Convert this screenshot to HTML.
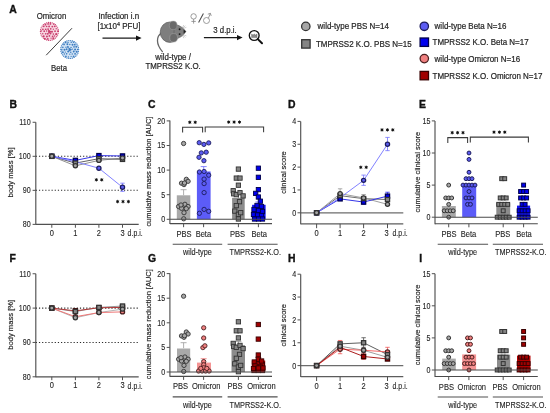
<!DOCTYPE html>
<html><head><meta charset="utf-8"><style>
html,body{margin:0;padding:0;background:#fff;width:550px;height:413px;overflow:hidden}
svg{display:block;filter:blur(0.35px)}
text{font-family:"Liberation Sans", sans-serif}
</style></head><body>
<svg width="550" height="413" viewBox="0 0 550 413">
<rect x="0" y="0" width="550" height="413" fill="#fff"/>
<text transform="translate(9.30,12.70) scale(1.0,1)" font-size="10.4" text-anchor="start" fill="#111" font-weight="bold" stroke="#111" stroke-width="0.35" >A</text>
<text transform="translate(51.50,19.20) scale(0.92,1)" font-size="8.5" text-anchor="middle" fill="#262626" font-weight="normal" stroke="#262626" stroke-width="0.2" >Omicron</text>
<circle cx="49.4" cy="31.4" r="9.5" fill="#f7d6e1"/>
<circle cx="42.87" cy="29.32" r="0.85" fill="#c93e6e"/>
<circle cx="41.23" cy="30.98" r="0.75" fill="#c93e6e"/>
<circle cx="42.79" cy="33.72" r="0.72" fill="#c93e6e"/>
<circle cx="45.46" cy="24.66" r="0.89" fill="#c93e6e"/>
<circle cx="43.80" cy="26.32" r="0.85" fill="#c93e6e"/>
<circle cx="45.71" cy="29.25" r="0.87" fill="#c93e6e"/>
<circle cx="44.22" cy="31.16" r="0.86" fill="#c93e6e"/>
<circle cx="45.68" cy="33.86" r="0.83" fill="#c93e6e"/>
<circle cx="43.69" cy="36.23" r="1.03" fill="#c93e6e"/>
<circle cx="44.83" cy="38.83" r="0.98" fill="#c93e6e"/>
<circle cx="48.09" cy="23.95" r="0.85" fill="#c93e6e"/>
<circle cx="46.64" cy="26.49" r="0.79" fill="#c93e6e"/>
<circle cx="48.06" cy="29.12" r="0.89" fill="#c93e6e"/>
<circle cx="46.61" cy="30.98" r="0.74" fill="#c93e6e"/>
<circle cx="47.73" cy="33.87" r="0.99" fill="#c93e6e"/>
<circle cx="46.92" cy="36.45" r="0.98" fill="#c93e6e"/>
<circle cx="47.80" cy="38.89" r="0.92" fill="#c93e6e"/>
<circle cx="50.39" cy="23.92" r="0.86" fill="#c93e6e"/>
<circle cx="49.10" cy="26.41" r="0.93" fill="#c93e6e"/>
<circle cx="50.73" cy="28.85" r="0.84" fill="#c93e6e"/>
<circle cx="48.97" cy="31.30" r="0.82" fill="#c93e6e"/>
<circle cx="50.49" cy="33.44" r="1.01" fill="#c93e6e"/>
<circle cx="49.41" cy="35.92" r="0.89" fill="#c93e6e"/>
<circle cx="51.06" cy="38.15" r="0.66" fill="#c93e6e"/>
<circle cx="53.79" cy="24.24" r="0.74" fill="#c93e6e"/>
<circle cx="52.28" cy="26.52" r="0.88" fill="#c93e6e"/>
<circle cx="53.36" cy="29.13" r="0.67" fill="#c93e6e"/>
<circle cx="51.97" cy="31.82" r="1.00" fill="#c93e6e"/>
<circle cx="53.35" cy="34.12" r="0.77" fill="#c93e6e"/>
<circle cx="52.55" cy="36.40" r="0.82" fill="#c93e6e"/>
<circle cx="53.30" cy="38.14" r="1.00" fill="#c93e6e"/>
<circle cx="54.76" cy="26.35" r="0.92" fill="#c93e6e"/>
<circle cx="56.21" cy="28.73" r="0.69" fill="#c93e6e"/>
<circle cx="55.05" cy="31.22" r="0.85" fill="#c93e6e"/>
<circle cx="56.12" cy="34.13" r="1.01" fill="#c93e6e"/>
<circle cx="54.47" cy="35.92" r="0.78" fill="#c93e6e"/>
<circle cx="58.02" cy="31.14" r="0.95" fill="#c93e6e"/>
<circle cx="58.40" cy="31.40" r="0.6" fill="#c93e6e"/>
<circle cx="58.20" cy="33.27" r="0.6" fill="#c93e6e"/>
<circle cx="57.62" cy="35.06" r="0.6" fill="#c93e6e"/>
<circle cx="56.68" cy="36.69" r="0.6" fill="#c93e6e"/>
<circle cx="55.42" cy="38.09" r="0.6" fill="#c93e6e"/>
<circle cx="53.90" cy="39.19" r="0.6" fill="#c93e6e"/>
<circle cx="52.18" cy="39.96" r="0.6" fill="#c93e6e"/>
<circle cx="50.34" cy="40.35" r="0.6" fill="#c93e6e"/>
<circle cx="48.46" cy="40.35" r="0.6" fill="#c93e6e"/>
<circle cx="46.62" cy="39.96" r="0.6" fill="#c93e6e"/>
<circle cx="44.90" cy="39.19" r="0.6" fill="#c93e6e"/>
<circle cx="43.38" cy="38.09" r="0.6" fill="#c93e6e"/>
<circle cx="42.12" cy="36.69" r="0.6" fill="#c93e6e"/>
<circle cx="41.18" cy="35.06" r="0.6" fill="#c93e6e"/>
<circle cx="40.60" cy="33.27" r="0.6" fill="#c93e6e"/>
<circle cx="40.40" cy="31.40" r="0.6" fill="#c93e6e"/>
<circle cx="40.60" cy="29.53" r="0.6" fill="#c93e6e"/>
<circle cx="41.18" cy="27.74" r="0.6" fill="#c93e6e"/>
<circle cx="42.12" cy="26.11" r="0.6" fill="#c93e6e"/>
<circle cx="43.38" cy="24.71" r="0.6" fill="#c93e6e"/>
<circle cx="44.90" cy="23.61" r="0.6" fill="#c93e6e"/>
<circle cx="46.62" cy="22.84" r="0.6" fill="#c93e6e"/>
<circle cx="48.46" cy="22.45" r="0.6" fill="#c93e6e"/>
<circle cx="50.34" cy="22.45" r="0.6" fill="#c93e6e"/>
<circle cx="52.18" cy="22.84" r="0.6" fill="#c93e6e"/>
<circle cx="53.90" cy="23.61" r="0.6" fill="#c93e6e"/>
<circle cx="55.42" cy="24.71" r="0.6" fill="#c93e6e"/>
<circle cx="56.68" cy="26.11" r="0.6" fill="#c93e6e"/>
<circle cx="57.62" cy="27.74" r="0.6" fill="#c93e6e"/>
<circle cx="58.20" cy="29.53" r="0.6" fill="#c93e6e"/>
<polygon points="48.10,29.20 51.80,31.70 48.30,33.70" fill="#c93e6e"/>
<circle cx="69.7" cy="49.5" r="9.5" fill="#d2e3f4"/>
<circle cx="62.83" cy="47.41" r="0.79" fill="#3c7cc0"/>
<circle cx="61.79" cy="49.86" r="0.83" fill="#3c7cc0"/>
<circle cx="62.89" cy="52.27" r="0.94" fill="#3c7cc0"/>
<circle cx="65.59" cy="42.46" r="0.89" fill="#3c7cc0"/>
<circle cx="64.03" cy="44.45" r="0.85" fill="#3c7cc0"/>
<circle cx="65.97" cy="47.22" r="0.68" fill="#3c7cc0"/>
<circle cx="64.49" cy="49.70" r="1.01" fill="#3c7cc0"/>
<circle cx="65.30" cy="52.11" r="0.67" fill="#3c7cc0"/>
<circle cx="64.34" cy="54.08" r="0.74" fill="#3c7cc0"/>
<circle cx="65.91" cy="56.32" r="0.86" fill="#3c7cc0"/>
<circle cx="68.03" cy="42.48" r="0.68" fill="#3c7cc0"/>
<circle cx="67.36" cy="44.29" r="0.94" fill="#3c7cc0"/>
<circle cx="67.89" cy="46.89" r="0.98" fill="#3c7cc0"/>
<circle cx="66.64" cy="49.22" r="0.93" fill="#3c7cc0"/>
<circle cx="68.22" cy="51.48" r="1.05" fill="#3c7cc0"/>
<circle cx="66.64" cy="53.87" r="0.79" fill="#3c7cc0"/>
<circle cx="68.43" cy="56.90" r="0.70" fill="#3c7cc0"/>
<circle cx="71.26" cy="42.30" r="0.74" fill="#3c7cc0"/>
<circle cx="69.84" cy="44.55" r="0.69" fill="#3c7cc0"/>
<circle cx="71.03" cy="47.44" r="0.70" fill="#3c7cc0"/>
<circle cx="69.78" cy="49.40" r="0.86" fill="#3c7cc0"/>
<circle cx="70.75" cy="52.31" r="0.75" fill="#3c7cc0"/>
<circle cx="69.80" cy="54.21" r="0.66" fill="#3c7cc0"/>
<circle cx="71.13" cy="56.35" r="0.67" fill="#3c7cc0"/>
<circle cx="73.58" cy="42.27" r="0.75" fill="#3c7cc0"/>
<circle cx="72.53" cy="44.83" r="0.97" fill="#3c7cc0"/>
<circle cx="74.01" cy="46.89" r="0.82" fill="#3c7cc0"/>
<circle cx="72.47" cy="49.05" r="0.66" fill="#3c7cc0"/>
<circle cx="73.74" cy="51.54" r="0.94" fill="#3c7cc0"/>
<circle cx="72.22" cy="53.92" r="0.72" fill="#3c7cc0"/>
<circle cx="73.58" cy="56.42" r="0.86" fill="#3c7cc0"/>
<circle cx="74.80" cy="44.64" r="0.86" fill="#3c7cc0"/>
<circle cx="76.29" cy="46.74" r="0.97" fill="#3c7cc0"/>
<circle cx="75.08" cy="49.52" r="1.02" fill="#3c7cc0"/>
<circle cx="76.67" cy="51.70" r="1.04" fill="#3c7cc0"/>
<circle cx="75.09" cy="53.85" r="0.92" fill="#3c7cc0"/>
<circle cx="77.67" cy="49.56" r="0.81" fill="#3c7cc0"/>
<circle cx="78.70" cy="49.50" r="0.6" fill="#3c7cc0"/>
<circle cx="78.50" cy="51.37" r="0.6" fill="#3c7cc0"/>
<circle cx="77.92" cy="53.16" r="0.6" fill="#3c7cc0"/>
<circle cx="76.98" cy="54.79" r="0.6" fill="#3c7cc0"/>
<circle cx="75.72" cy="56.19" r="0.6" fill="#3c7cc0"/>
<circle cx="74.20" cy="57.29" r="0.6" fill="#3c7cc0"/>
<circle cx="72.48" cy="58.06" r="0.6" fill="#3c7cc0"/>
<circle cx="70.64" cy="58.45" r="0.6" fill="#3c7cc0"/>
<circle cx="68.76" cy="58.45" r="0.6" fill="#3c7cc0"/>
<circle cx="66.92" cy="58.06" r="0.6" fill="#3c7cc0"/>
<circle cx="65.20" cy="57.29" r="0.6" fill="#3c7cc0"/>
<circle cx="63.68" cy="56.19" r="0.6" fill="#3c7cc0"/>
<circle cx="62.42" cy="54.79" r="0.6" fill="#3c7cc0"/>
<circle cx="61.48" cy="53.16" r="0.6" fill="#3c7cc0"/>
<circle cx="60.90" cy="51.37" r="0.6" fill="#3c7cc0"/>
<circle cx="60.70" cy="49.50" r="0.6" fill="#3c7cc0"/>
<circle cx="60.90" cy="47.63" r="0.6" fill="#3c7cc0"/>
<circle cx="61.48" cy="45.84" r="0.6" fill="#3c7cc0"/>
<circle cx="62.42" cy="44.21" r="0.6" fill="#3c7cc0"/>
<circle cx="63.68" cy="42.81" r="0.6" fill="#3c7cc0"/>
<circle cx="65.20" cy="41.71" r="0.6" fill="#3c7cc0"/>
<circle cx="66.92" cy="40.94" r="0.6" fill="#3c7cc0"/>
<circle cx="68.76" cy="40.55" r="0.6" fill="#3c7cc0"/>
<circle cx="70.64" cy="40.55" r="0.6" fill="#3c7cc0"/>
<circle cx="72.48" cy="40.94" r="0.6" fill="#3c7cc0"/>
<circle cx="74.20" cy="41.71" r="0.6" fill="#3c7cc0"/>
<circle cx="75.72" cy="42.81" r="0.6" fill="#3c7cc0"/>
<circle cx="76.98" cy="44.21" r="0.6" fill="#3c7cc0"/>
<circle cx="77.92" cy="45.84" r="0.6" fill="#3c7cc0"/>
<circle cx="78.50" cy="47.63" r="0.6" fill="#3c7cc0"/>
<polygon points="68.40,47.30 72.10,49.80 68.60,51.80" fill="#3c7cc0"/>
<line x1="72.00" y1="28.20" x2="46.20" y2="55.20" stroke="#333" stroke-width="0.95" />
<text transform="translate(59.10,70.80) scale(0.92,1)" font-size="8.5" text-anchor="middle" fill="#262626" font-weight="normal" stroke="#262626" stroke-width="0.2" >Beta</text>
<text transform="translate(118.80,19.10) scale(0.94,1)" font-size="8.5" text-anchor="middle" fill="#262626" font-weight="normal" stroke="#262626" stroke-width="0.2" >Infection i.n</text>
<text transform="translate(118.9,28.6) scale(0.94,1)" font-size="8.5" text-anchor="middle" fill="#262626" stroke="#262626" stroke-width="0.2">[1x10<tspan font-size="5.8" dy="-2.9">4</tspan><tspan dy="2.9"> PFU]</tspan></text>
<line x1="102.50" y1="38.10" x2="137.00" y2="38.10" stroke="#1a1a1a" stroke-width="1.15" />
<polygon points="136,35.5 141.6,38.1 136,40.7" fill="#111"/>
<path d="M161.4,33 C156.2,36.5 155.8,44 162.4,51.6" fill="none" stroke="#666" stroke-width="1.3" stroke-linecap="round"/>
<ellipse cx="169.8" cy="32.2" rx="9.6" ry="10.2" fill="#7e7e7e" stroke="#5a5a5a" stroke-width="0.7"/>
<path d="M174,24.5 C179,24.5 183.5,28 185.8,31.6 C183.5,35.5 179,39 174,39 Z" fill="#7e7e7e" stroke="#5a5a5a" stroke-width="0.6"/>
<ellipse cx="173.2" cy="25.4" rx="3.9" ry="4.3" fill="#6a6a6a" stroke="#a8a8a8" stroke-width="0.5"/>
<ellipse cx="173.6" cy="37.8" rx="3.9" ry="4.3" fill="#6a6a6a" stroke="#a8a8a8" stroke-width="0.5"/>
<circle cx="179.6" cy="29.2" r="0.95" fill="#1a1a1a"/>
<circle cx="179.6" cy="34.1" r="0.95" fill="#1a1a1a"/>
<path d="M183.6,29.4 L186.0,31.6 L183.6,33.8 Z" fill="#222"/>
<path d="M182.5,28.5 l2.8,-2.8 M183,28.6 l3.4,-1.3 M182.2,28.2 l1.6,-3.2 M182.5,34.7 l2.8,2.8 M183,34.6 l3.4,1.3 M182.2,35 l1.6,3.2" stroke="#999" stroke-width="0.45"/>
<text transform="translate(173.10,60.00) scale(0.92,1)" font-size="8.6" text-anchor="middle" fill="#262626" font-weight="normal" stroke="#262626" stroke-width="0.2" >wild-type /</text>
<text transform="translate(173.10,68.90) scale(0.92,1)" font-size="8.6" text-anchor="middle" fill="#262626" font-weight="normal" stroke="#262626" stroke-width="0.2" >TMPRSS2 K.O.</text>
<g fill="none" stroke="#8a8a8a" stroke-width="0.85">
<circle cx="193.6" cy="16.4" r="2.7"/>
<path d="M193.6,19.1 V23.6 M191.4,21.4 H195.8"/>
<circle cx="206.5" cy="20.5" r="3.0"/>
<path d="M208.4,18.2 L210.4,13.3 M207.8,14.2 L210.4,13.3 L211.2,15.9"/>
</g>
<line x1="198.60" y1="22.60" x2="203.40" y2="13.40" stroke="#4a4a4a" stroke-width="1.05" />
<text transform="translate(225.00,32.60) scale(0.92,1)" font-size="8.5" text-anchor="middle" fill="#262626" font-weight="normal" stroke="#262626" stroke-width="0.2" >3 d.p.i.</text>
<line x1="203.90" y1="37.60" x2="238.00" y2="37.60" stroke="#1a1a1a" stroke-width="1.15" />
<polygon points="237,35.0 242.6,37.6 237,40.2" fill="#111"/>
<circle cx="254.2" cy="35.5" r="4.9" fill="#fff" stroke="#111" stroke-width="1.35"/>
<line x1="257.8" y1="39.1" x2="262.0" y2="43.2" stroke="#111" stroke-width="2.0" stroke-linecap="round"/>
<path d="M251.6,37.6 h5.4 v-3.6 l-1.4,1.1 l-1.3,-1 l-1.3,1 l-1.4,-1.1 z" fill="#8a8a8a" stroke="#555" stroke-width="0.4"/>
<circle cx="305.80" cy="26.40" r="4.20" fill="#a6a6a6" stroke="#333333" stroke-width="1.3"/>
<text transform="translate(317.60,29.40) scale(0.93,1)" font-size="8.6" text-anchor="start" fill="#262626" font-weight="normal" stroke="#262626" stroke-width="0.22" >wild-type PBS N=14</text>
<rect x="301.70" y="39.70" width="8.40" height="8.40" fill="#858585" stroke="#333333" stroke-width="1.3"/>
<text transform="translate(315.90,46.90) scale(0.93,1)" font-size="8.6" text-anchor="start" fill="#262626" font-weight="normal" stroke="#262626" stroke-width="0.22" >TMPRSS2 K.O. PBS N=15</text>
<circle cx="424.30" cy="26.30" r="4.20" fill="#5c5cf2" stroke="#1c1c5c" stroke-width="1.3"/>
<text transform="translate(434.60,29.30) scale(0.93,1)" font-size="8.6" text-anchor="start" fill="#262626" font-weight="normal" stroke="#262626" stroke-width="0.22" >wild-type Beta N=16</text>
<rect x="420.10" y="38.00" width="8.40" height="8.40" fill="#0000ee" stroke="#00004a" stroke-width="1.3"/>
<text transform="translate(432.50,45.20) scale(0.93,1)" font-size="8.6" text-anchor="start" fill="#262626" font-weight="normal" stroke="#262626" stroke-width="0.22" >TMPRSS2 K.O. Beta N=17</text>
<circle cx="424.30" cy="58.60" r="4.20" fill="#f08080" stroke="#4a1e1e" stroke-width="1.3"/>
<text transform="translate(434.60,61.60) scale(0.93,1)" font-size="8.6" text-anchor="start" fill="#262626" font-weight="normal" stroke="#262626" stroke-width="0.22" >wild-type Omicron N=16</text>
<rect x="420.10" y="71.40" width="8.40" height="8.40" fill="#a00000" stroke="#380000" stroke-width="1.3"/>
<text transform="translate(432.50,78.60) scale(0.93,1)" font-size="8.6" text-anchor="start" fill="#262626" font-weight="normal" stroke="#262626" stroke-width="0.22" >TMPRSS2 K.O. Omicron N=17</text>
<text transform="translate(9.40,107.50) scale(1.0,1)" font-size="10.4" text-anchor="start" fill="#111" font-weight="bold" stroke="#111" stroke-width="0.35" >B</text>
<text transform="translate(13.00,172.40) rotate(-90)" font-size="8.0" text-anchor="middle" fill="#262626" stroke="#262626" stroke-width="0.18" textLength="50" lengthAdjust="spacingAndGlyphs">body mass [%]</text>
<line x1="35.80" y1="156.30" x2="139.00" y2="156.30" stroke="#2a2a2a" stroke-width="1.05" stroke-dasharray="1.2 1.95"/>
<line x1="35.80" y1="190.33" x2="139.00" y2="190.33" stroke="#2a2a2a" stroke-width="1.05" stroke-dasharray="1.2 1.95"/>
<line x1="35.80" y1="122.27" x2="35.80" y2="224.86" stroke="#505050" stroke-width="1.15" />
<line x1="35.80" y1="224.36" x2="138.70" y2="224.36" stroke="#505050" stroke-width="1.15" />
<line x1="32.60" y1="122.27" x2="35.80" y2="122.27" stroke="#505050" stroke-width="1.0" />
<text transform="translate(30.60,125.17) scale(0.84,1)" font-size="8.5" text-anchor="end" fill="#262626" font-weight="normal" stroke="#262626" stroke-width="0.12" >110</text>
<line x1="32.60" y1="156.30" x2="35.80" y2="156.30" stroke="#505050" stroke-width="1.0" />
<text transform="translate(30.60,159.20) scale(0.84,1)" font-size="8.5" text-anchor="end" fill="#262626" font-weight="normal" stroke="#262626" stroke-width="0.12" >100</text>
<line x1="32.60" y1="190.33" x2="35.80" y2="190.33" stroke="#505050" stroke-width="1.0" />
<text transform="translate(30.60,193.23) scale(0.84,1)" font-size="8.5" text-anchor="end" fill="#262626" font-weight="normal" stroke="#262626" stroke-width="0.12" >90</text>
<line x1="32.60" y1="224.36" x2="35.80" y2="224.36" stroke="#505050" stroke-width="1.0" />
<text transform="translate(30.60,227.26) scale(0.84,1)" font-size="8.5" text-anchor="end" fill="#262626" font-weight="normal" stroke="#262626" stroke-width="0.12" >80</text>
<line x1="51.80" y1="224.36" x2="51.80" y2="227.76" stroke="#505050" stroke-width="1.0" />
<text transform="translate(51.80,236.00) scale(0.85,1)" font-size="8.8" text-anchor="middle" fill="#262626" font-weight="normal" stroke="#262626" stroke-width="0.12" >0</text>
<line x1="75.40" y1="224.36" x2="75.40" y2="227.76" stroke="#505050" stroke-width="1.0" />
<text transform="translate(75.40,236.00) scale(0.85,1)" font-size="8.8" text-anchor="middle" fill="#262626" font-weight="normal" stroke="#262626" stroke-width="0.12" >1</text>
<line x1="98.90" y1="224.36" x2="98.90" y2="227.76" stroke="#505050" stroke-width="1.0" />
<text transform="translate(98.90,236.00) scale(0.85,1)" font-size="8.8" text-anchor="middle" fill="#262626" font-weight="normal" stroke="#262626" stroke-width="0.12" >2</text>
<line x1="122.50" y1="224.36" x2="122.50" y2="227.76" stroke="#505050" stroke-width="1.0" />
<text transform="translate(122.50,236.00) scale(0.85,1)" font-size="8.8" text-anchor="middle" fill="#262626" font-weight="normal" stroke="#262626" stroke-width="0.12" >3</text>
<text transform="translate(127.50,236.20) scale(0.8,1)" font-size="8.6" text-anchor="start" fill="#262626" font-weight="normal" stroke="#262626" stroke-width="0.12" letter-spacing="0.1">d.p.i.</text>
<polyline points="51.80,156.30 75.40,165.83 98.90,160.38 122.50,158.00" fill="none" stroke="#8a8a8a" stroke-width="0.95"/>
<polyline points="51.80,156.30 75.40,163.11 98.90,158.68 122.50,159.36" fill="none" stroke="#5a5a5a" stroke-width="0.95"/>
<polyline points="51.80,156.30 75.40,160.38 98.90,155.62 122.50,155.96" fill="none" stroke="#2a2ae6" stroke-width="0.95"/>
<polyline points="51.80,156.30 75.40,161.74 98.90,168.21 122.50,187.27" fill="none" stroke="#7a7aff" stroke-width="0.95"/>
<line x1="122.50" y1="183.18" x2="122.50" y2="191.35" stroke="#7a7aff" stroke-width="0.85" />
<line x1="120.30" y1="183.18" x2="124.70" y2="183.18" stroke="#7a7aff" stroke-width="0.85" />
<line x1="120.30" y1="191.35" x2="124.70" y2="191.35" stroke="#7a7aff" stroke-width="0.85" />
<circle cx="51.80" cy="156.30" r="2.10" fill="#5c5cf2" stroke="#1c1c5c" stroke-width="1.25"/>
<circle cx="75.40" cy="161.74" r="2.10" fill="#5c5cf2" stroke="#1c1c5c" stroke-width="1.25"/>
<circle cx="98.90" cy="168.21" r="2.10" fill="#5c5cf2" stroke="#1c1c5c" stroke-width="1.25"/>
<circle cx="122.50" cy="187.27" r="2.10" fill="#5c5cf2" stroke="#1c1c5c" stroke-width="1.25"/>
<rect x="49.70" y="154.20" width="4.20" height="4.20" fill="#0000ee" stroke="#00004a" stroke-width="1.25"/>
<rect x="73.30" y="158.28" width="4.20" height="4.20" fill="#0000ee" stroke="#00004a" stroke-width="1.25"/>
<rect x="96.80" y="153.52" width="4.20" height="4.20" fill="#0000ee" stroke="#00004a" stroke-width="1.25"/>
<rect x="120.40" y="153.86" width="4.20" height="4.20" fill="#0000ee" stroke="#00004a" stroke-width="1.25"/>
<rect x="49.70" y="154.20" width="4.20" height="4.20" fill="#858585" stroke="#333333" stroke-width="1.25"/>
<rect x="73.30" y="161.01" width="4.20" height="4.20" fill="#858585" stroke="#333333" stroke-width="1.25"/>
<rect x="96.80" y="156.58" width="4.20" height="4.20" fill="#858585" stroke="#333333" stroke-width="1.25"/>
<rect x="120.40" y="157.26" width="4.20" height="4.20" fill="#858585" stroke="#333333" stroke-width="1.25"/>
<circle cx="51.80" cy="156.30" r="2.10" fill="#a6a6a6" stroke="#333333" stroke-width="1.25"/>
<circle cx="75.40" cy="165.83" r="2.10" fill="#a6a6a6" stroke="#333333" stroke-width="1.25"/>
<circle cx="98.90" cy="160.38" r="2.10" fill="#a6a6a6" stroke="#333333" stroke-width="1.25"/>
<circle cx="122.50" cy="158.00" r="2.10" fill="#a6a6a6" stroke="#333333" stroke-width="1.25"/>
<circle cx="96.35" cy="179.80" r="1.15" fill="#111"/>
<path d="M96.35,178.05 L96.35,181.55 M97.87,178.93 L94.83,180.68 M97.87,180.68 L94.83,178.93 " stroke="#111" stroke-width="0.8"/>
<circle cx="101.75" cy="179.80" r="1.15" fill="#111"/>
<path d="M101.75,178.05 L101.75,181.55 M103.27,178.93 L100.23,180.68 M103.27,180.68 L100.23,178.93 " stroke="#111" stroke-width="0.8"/>
<circle cx="117.60" cy="201.60" r="1.15" fill="#111"/>
<path d="M117.60,199.85 L117.60,203.35 M119.12,200.72 L116.08,202.47 M119.12,202.47 L116.08,200.72 " stroke="#111" stroke-width="0.8"/>
<circle cx="123.00" cy="201.60" r="1.15" fill="#111"/>
<path d="M123.00,199.85 L123.00,203.35 M124.52,200.72 L121.48,202.47 M124.52,202.47 L121.48,200.72 " stroke="#111" stroke-width="0.8"/>
<circle cx="128.40" cy="201.60" r="1.15" fill="#111"/>
<path d="M128.40,199.85 L128.40,203.35 M129.92,200.72 L126.88,202.47 M129.92,202.47 L126.88,200.72 " stroke="#111" stroke-width="0.8"/>
<text transform="translate(9.40,261.70) scale(1.0,1)" font-size="10.4" text-anchor="start" fill="#111" font-weight="bold" stroke="#111" stroke-width="0.35" >F</text>
<text transform="translate(13.00,324.80) rotate(-90)" font-size="8.0" text-anchor="middle" fill="#262626" stroke="#262626" stroke-width="0.18" textLength="50" lengthAdjust="spacingAndGlyphs">body mass [%]</text>
<line x1="35.80" y1="308.10" x2="139.00" y2="308.10" stroke="#2a2a2a" stroke-width="1.05" stroke-dasharray="1.2 1.95"/>
<line x1="35.80" y1="342.45" x2="139.00" y2="342.45" stroke="#2a2a2a" stroke-width="1.05" stroke-dasharray="1.2 1.95"/>
<line x1="35.80" y1="273.75" x2="35.80" y2="377.30" stroke="#505050" stroke-width="1.15" />
<line x1="35.80" y1="376.80" x2="138.70" y2="376.80" stroke="#505050" stroke-width="1.15" />
<line x1="32.60" y1="273.75" x2="35.80" y2="273.75" stroke="#505050" stroke-width="1.0" />
<text transform="translate(30.60,276.65) scale(0.84,1)" font-size="8.5" text-anchor="end" fill="#262626" font-weight="normal" stroke="#262626" stroke-width="0.12" >110</text>
<line x1="32.60" y1="308.10" x2="35.80" y2="308.10" stroke="#505050" stroke-width="1.0" />
<text transform="translate(30.60,311.00) scale(0.84,1)" font-size="8.5" text-anchor="end" fill="#262626" font-weight="normal" stroke="#262626" stroke-width="0.12" >100</text>
<line x1="32.60" y1="342.45" x2="35.80" y2="342.45" stroke="#505050" stroke-width="1.0" />
<text transform="translate(30.60,345.35) scale(0.84,1)" font-size="8.5" text-anchor="end" fill="#262626" font-weight="normal" stroke="#262626" stroke-width="0.12" >90</text>
<line x1="32.60" y1="376.80" x2="35.80" y2="376.80" stroke="#505050" stroke-width="1.0" />
<text transform="translate(30.60,379.70) scale(0.84,1)" font-size="8.5" text-anchor="end" fill="#262626" font-weight="normal" stroke="#262626" stroke-width="0.12" >80</text>
<line x1="51.80" y1="376.80" x2="51.80" y2="380.20" stroke="#505050" stroke-width="1.0" />
<text transform="translate(51.80,388.40) scale(0.85,1)" font-size="8.8" text-anchor="middle" fill="#262626" font-weight="normal" stroke="#262626" stroke-width="0.12" >0</text>
<line x1="75.40" y1="376.80" x2="75.40" y2="380.20" stroke="#505050" stroke-width="1.0" />
<text transform="translate(75.40,388.40) scale(0.85,1)" font-size="8.8" text-anchor="middle" fill="#262626" font-weight="normal" stroke="#262626" stroke-width="0.12" >1</text>
<line x1="98.90" y1="376.80" x2="98.90" y2="380.20" stroke="#505050" stroke-width="1.0" />
<text transform="translate(98.90,388.40) scale(0.85,1)" font-size="8.8" text-anchor="middle" fill="#262626" font-weight="normal" stroke="#262626" stroke-width="0.12" >2</text>
<line x1="122.50" y1="376.80" x2="122.50" y2="380.20" stroke="#505050" stroke-width="1.0" />
<text transform="translate(122.50,388.40) scale(0.85,1)" font-size="8.8" text-anchor="middle" fill="#262626" font-weight="normal" stroke="#262626" stroke-width="0.12" >3</text>
<text transform="translate(127.50,388.60) scale(0.8,1)" font-size="8.6" text-anchor="start" fill="#262626" font-weight="normal" stroke="#262626" stroke-width="0.12" letter-spacing="0.1">d.p.i.</text>
<polyline points="51.80,308.10 75.40,317.72 98.90,312.57 122.50,309.13" fill="none" stroke="#b0b0b0" stroke-width="0.95"/>
<polyline points="51.80,308.10 75.40,311.54 98.90,307.41 122.50,306.04" fill="none" stroke="#909090" stroke-width="0.95"/>
<polyline points="51.80,308.10 75.40,310.85 98.90,307.76 122.50,307.41" fill="none" stroke="#b03030" stroke-width="0.95"/>
<polyline points="51.80,308.10 75.40,316.69 98.90,312.57 122.50,311.88" fill="none" stroke="#ee7070" stroke-width="0.95"/>
<rect x="49.70" y="306.00" width="4.20" height="4.20" fill="#a00000" stroke="#380000" stroke-width="1.25"/>
<rect x="73.30" y="308.75" width="4.20" height="4.20" fill="#a00000" stroke="#380000" stroke-width="1.25"/>
<rect x="96.80" y="305.66" width="4.20" height="4.20" fill="#a00000" stroke="#380000" stroke-width="1.25"/>
<rect x="120.40" y="305.31" width="4.20" height="4.20" fill="#a00000" stroke="#380000" stroke-width="1.25"/>
<circle cx="51.80" cy="308.10" r="2.10" fill="#f08080" stroke="#4a1e1e" stroke-width="1.25"/>
<circle cx="75.40" cy="316.69" r="2.10" fill="#f08080" stroke="#4a1e1e" stroke-width="1.25"/>
<circle cx="98.90" cy="312.57" r="2.10" fill="#f08080" stroke="#4a1e1e" stroke-width="1.25"/>
<circle cx="122.50" cy="311.88" r="2.10" fill="#f08080" stroke="#4a1e1e" stroke-width="1.25"/>
<rect x="49.70" y="306.00" width="4.20" height="4.20" fill="#858585" stroke="#333333" stroke-width="1.25"/>
<rect x="73.30" y="309.44" width="4.20" height="4.20" fill="#858585" stroke="#333333" stroke-width="1.25"/>
<rect x="96.80" y="305.31" width="4.20" height="4.20" fill="#858585" stroke="#333333" stroke-width="1.25"/>
<rect x="120.40" y="303.94" width="4.20" height="4.20" fill="#858585" stroke="#333333" stroke-width="1.25"/>
<circle cx="51.80" cy="308.10" r="2.10" fill="#a6a6a6" stroke="#333333" stroke-width="1.25"/>
<circle cx="75.40" cy="317.72" r="2.10" fill="#a6a6a6" stroke="#333333" stroke-width="1.25"/>
<circle cx="98.90" cy="312.57" r="2.10" fill="#a6a6a6" stroke="#333333" stroke-width="1.25"/>
<circle cx="122.50" cy="309.13" r="2.10" fill="#a6a6a6" stroke="#333333" stroke-width="1.25"/>
<text transform="translate(287.90,107.50) scale(1.0,1)" font-size="10.4" text-anchor="start" fill="#111" font-weight="bold" stroke="#111" stroke-width="0.35" >D</text>
<text transform="translate(286.20,172.50) rotate(-90)" font-size="8.0" text-anchor="middle" fill="#262626" stroke="#262626" stroke-width="0.18" textLength="42.5" lengthAdjust="spacingAndGlyphs">clinical score</text>
<line x1="300.70" y1="212.80" x2="403.30" y2="212.80" stroke="#6c6c6c" stroke-width="1.15" />
<line x1="300.70" y1="121.40" x2="300.70" y2="224.30" stroke="#505050" stroke-width="1.15" />
<line x1="300.70" y1="223.80" x2="403.30" y2="223.80" stroke="#5c5c5c" stroke-width="1.15" />
<line x1="297.50" y1="212.80" x2="300.70" y2="212.80" stroke="#505050" stroke-width="1.0" />
<text transform="translate(296.10,215.70) scale(0.84,1)" font-size="8.5" text-anchor="end" fill="#262626" font-weight="normal" stroke="#262626" stroke-width="0.12" >0</text>
<line x1="297.50" y1="189.95" x2="300.70" y2="189.95" stroke="#505050" stroke-width="1.0" />
<text transform="translate(296.10,192.85) scale(0.84,1)" font-size="8.5" text-anchor="end" fill="#262626" font-weight="normal" stroke="#262626" stroke-width="0.12" >1</text>
<line x1="297.50" y1="167.10" x2="300.70" y2="167.10" stroke="#505050" stroke-width="1.0" />
<text transform="translate(296.10,170.00) scale(0.84,1)" font-size="8.5" text-anchor="end" fill="#262626" font-weight="normal" stroke="#262626" stroke-width="0.12" >2</text>
<line x1="297.50" y1="144.25" x2="300.70" y2="144.25" stroke="#505050" stroke-width="1.0" />
<text transform="translate(296.10,147.15) scale(0.84,1)" font-size="8.5" text-anchor="end" fill="#262626" font-weight="normal" stroke="#262626" stroke-width="0.12" >3</text>
<line x1="297.50" y1="121.40" x2="300.70" y2="121.40" stroke="#505050" stroke-width="1.0" />
<text transform="translate(296.10,124.30) scale(0.84,1)" font-size="8.5" text-anchor="end" fill="#262626" font-weight="normal" stroke="#262626" stroke-width="0.12" >4</text>
<line x1="316.60" y1="223.80" x2="316.60" y2="228.20" stroke="#505050" stroke-width="1.0" />
<text transform="translate(316.60,235.90) scale(0.85,1)" font-size="8.8" text-anchor="middle" fill="#262626" font-weight="normal" stroke="#262626" stroke-width="0.12" >0</text>
<line x1="340.10" y1="223.80" x2="340.10" y2="228.20" stroke="#505050" stroke-width="1.0" />
<text transform="translate(340.10,235.90) scale(0.85,1)" font-size="8.8" text-anchor="middle" fill="#262626" font-weight="normal" stroke="#262626" stroke-width="0.12" >1</text>
<line x1="363.60" y1="223.80" x2="363.60" y2="228.20" stroke="#505050" stroke-width="1.0" />
<text transform="translate(363.60,235.90) scale(0.85,1)" font-size="8.8" text-anchor="middle" fill="#262626" font-weight="normal" stroke="#262626" stroke-width="0.12" >2</text>
<line x1="387.50" y1="223.80" x2="387.50" y2="228.20" stroke="#505050" stroke-width="1.0" />
<text transform="translate(386.50,235.90) scale(0.85,1)" font-size="8.8" text-anchor="middle" fill="#262626" font-weight="normal" stroke="#262626" stroke-width="0.12" >3</text>
<text transform="translate(392.40,235.80) scale(0.8,1)" font-size="8.6" text-anchor="start" fill="#262626" font-weight="normal" stroke="#262626" stroke-width="0.12" letter-spacing="0.1">d.p.i.</text>
<polyline points="316.60,212.80 340.10,195.66 363.60,198.63 387.50,199.55" fill="none" stroke="#666" stroke-width="0.95"/>
<polyline points="316.60,212.80 340.10,193.61 363.60,197.95 387.50,204.35" fill="none" stroke="#999" stroke-width="0.95"/>
<polyline points="316.60,212.80 340.10,198.86 363.60,202.06 387.50,196.12" fill="none" stroke="#2a2ae6" stroke-width="0.95"/>
<polyline points="316.60,212.80 340.10,197.72 363.60,180.35 387.50,144.25" fill="none" stroke="#7a7aff" stroke-width="0.95"/>
<line x1="340.10" y1="188.81" x2="340.10" y2="198.63" stroke="#999" stroke-width="0.85" />
<line x1="337.90" y1="188.81" x2="342.30" y2="188.81" stroke="#999" stroke-width="0.85" />
<line x1="337.90" y1="198.63" x2="342.30" y2="198.63" stroke="#999" stroke-width="0.85" />
<line x1="363.60" y1="194.52" x2="363.60" y2="201.38" stroke="#999" stroke-width="0.85" />
<line x1="361.40" y1="194.52" x2="365.80" y2="194.52" stroke="#999" stroke-width="0.85" />
<line x1="361.40" y1="201.38" x2="365.80" y2="201.38" stroke="#999" stroke-width="0.85" />
<line x1="363.60" y1="199.09" x2="363.60" y2="204.12" stroke="#2a2ae6" stroke-width="0.85" />
<line x1="361.40" y1="199.09" x2="365.80" y2="199.09" stroke="#2a2ae6" stroke-width="0.85" />
<line x1="361.40" y1="204.12" x2="365.80" y2="204.12" stroke="#2a2ae6" stroke-width="0.85" />
<line x1="387.50" y1="192.24" x2="387.50" y2="200.92" stroke="#2a2ae6" stroke-width="0.85" />
<line x1="385.30" y1="192.24" x2="389.70" y2="192.24" stroke="#2a2ae6" stroke-width="0.85" />
<line x1="385.30" y1="200.92" x2="389.70" y2="200.92" stroke="#2a2ae6" stroke-width="0.85" />
<line x1="363.60" y1="175.10" x2="363.60" y2="185.38" stroke="#7a7aff" stroke-width="0.85" />
<line x1="361.40" y1="175.10" x2="365.80" y2="175.10" stroke="#7a7aff" stroke-width="0.85" />
<line x1="361.40" y1="185.38" x2="365.80" y2="185.38" stroke="#7a7aff" stroke-width="0.85" />
<line x1="387.50" y1="137.40" x2="387.50" y2="150.65" stroke="#7a7aff" stroke-width="0.85" />
<line x1="385.30" y1="137.40" x2="389.70" y2="137.40" stroke="#7a7aff" stroke-width="0.85" />
<line x1="385.30" y1="150.65" x2="389.70" y2="150.65" stroke="#7a7aff" stroke-width="0.85" />
<circle cx="316.60" cy="212.80" r="2.10" fill="#5c5cf2" stroke="#1c1c5c" stroke-width="1.25"/>
<circle cx="340.10" cy="197.72" r="2.10" fill="#5c5cf2" stroke="#1c1c5c" stroke-width="1.25"/>
<circle cx="363.60" cy="180.35" r="2.10" fill="#5c5cf2" stroke="#1c1c5c" stroke-width="1.25"/>
<circle cx="387.50" cy="144.25" r="2.10" fill="#5c5cf2" stroke="#1c1c5c" stroke-width="1.25"/>
<rect x="314.50" y="210.70" width="4.20" height="4.20" fill="#0000ee" stroke="#00004a" stroke-width="1.25"/>
<rect x="338.00" y="196.76" width="4.20" height="4.20" fill="#0000ee" stroke="#00004a" stroke-width="1.25"/>
<rect x="361.50" y="199.96" width="4.20" height="4.20" fill="#0000ee" stroke="#00004a" stroke-width="1.25"/>
<rect x="385.40" y="194.02" width="4.20" height="4.20" fill="#0000ee" stroke="#00004a" stroke-width="1.25"/>
<rect x="314.50" y="210.70" width="4.20" height="4.20" fill="#858585" stroke="#333333" stroke-width="1.25"/>
<rect x="338.00" y="193.56" width="4.20" height="4.20" fill="#858585" stroke="#333333" stroke-width="1.25"/>
<rect x="361.50" y="196.53" width="4.20" height="4.20" fill="#858585" stroke="#333333" stroke-width="1.25"/>
<rect x="385.40" y="197.45" width="4.20" height="4.20" fill="#858585" stroke="#333333" stroke-width="1.25"/>
<circle cx="316.60" cy="212.80" r="2.10" fill="#a6a6a6" stroke="#333333" stroke-width="1.25"/>
<circle cx="340.10" cy="193.61" r="2.10" fill="#a6a6a6" stroke="#333333" stroke-width="1.25"/>
<circle cx="363.60" cy="197.95" r="2.10" fill="#a6a6a6" stroke="#333333" stroke-width="1.25"/>
<circle cx="387.50" cy="204.35" r="2.10" fill="#a6a6a6" stroke="#333333" stroke-width="1.25"/>
<circle cx="360.80" cy="167.30" r="1.15" fill="#111"/>
<path d="M360.80,165.55 L360.80,169.05 M362.32,166.43 L359.28,168.18 M362.32,168.18 L359.28,166.43 " stroke="#111" stroke-width="0.8"/>
<circle cx="366.20" cy="167.30" r="1.15" fill="#111"/>
<path d="M366.20,165.55 L366.20,169.05 M367.72,166.43 L364.68,168.18 M367.72,168.18 L364.68,166.43 " stroke="#111" stroke-width="0.8"/>
<circle cx="382.00" cy="129.90" r="1.15" fill="#111"/>
<path d="M382.00,128.15 L382.00,131.65 M383.52,129.03 L380.48,130.78 M383.52,130.78 L380.48,129.03 " stroke="#111" stroke-width="0.8"/>
<circle cx="387.40" cy="129.90" r="1.15" fill="#111"/>
<path d="M387.40,128.15 L387.40,131.65 M388.92,129.03 L385.88,130.78 M388.92,130.78 L385.88,129.03 " stroke="#111" stroke-width="0.8"/>
<circle cx="392.80" cy="129.90" r="1.15" fill="#111"/>
<path d="M392.80,128.15 L392.80,131.65 M394.32,129.03 L391.28,130.78 M394.32,130.78 L391.28,129.03 " stroke="#111" stroke-width="0.8"/>
<text transform="translate(287.90,261.70) scale(1.0,1)" font-size="10.4" text-anchor="start" fill="#111" font-weight="bold" stroke="#111" stroke-width="0.35" >H</text>
<text transform="translate(286.20,325.30) rotate(-90)" font-size="8.0" text-anchor="middle" fill="#262626" stroke="#262626" stroke-width="0.18" textLength="42.5" lengthAdjust="spacingAndGlyphs">clinical score</text>
<line x1="300.70" y1="365.60" x2="403.30" y2="365.60" stroke="#6c6c6c" stroke-width="1.15" />
<line x1="300.70" y1="274.20" x2="300.70" y2="377.10" stroke="#505050" stroke-width="1.15" />
<line x1="300.70" y1="376.60" x2="403.30" y2="376.60" stroke="#5c5c5c" stroke-width="1.15" />
<line x1="297.50" y1="365.60" x2="300.70" y2="365.60" stroke="#505050" stroke-width="1.0" />
<text transform="translate(296.10,368.50) scale(0.84,1)" font-size="8.5" text-anchor="end" fill="#262626" font-weight="normal" stroke="#262626" stroke-width="0.12" >0</text>
<line x1="297.50" y1="342.75" x2="300.70" y2="342.75" stroke="#505050" stroke-width="1.0" />
<text transform="translate(296.10,345.65) scale(0.84,1)" font-size="8.5" text-anchor="end" fill="#262626" font-weight="normal" stroke="#262626" stroke-width="0.12" >1</text>
<line x1="297.50" y1="319.90" x2="300.70" y2="319.90" stroke="#505050" stroke-width="1.0" />
<text transform="translate(296.10,322.80) scale(0.84,1)" font-size="8.5" text-anchor="end" fill="#262626" font-weight="normal" stroke="#262626" stroke-width="0.12" >2</text>
<line x1="297.50" y1="297.05" x2="300.70" y2="297.05" stroke="#505050" stroke-width="1.0" />
<text transform="translate(296.10,299.95) scale(0.84,1)" font-size="8.5" text-anchor="end" fill="#262626" font-weight="normal" stroke="#262626" stroke-width="0.12" >3</text>
<line x1="297.50" y1="274.20" x2="300.70" y2="274.20" stroke="#505050" stroke-width="1.0" />
<text transform="translate(296.10,277.10) scale(0.84,1)" font-size="8.5" text-anchor="end" fill="#262626" font-weight="normal" stroke="#262626" stroke-width="0.12" >4</text>
<line x1="316.60" y1="376.60" x2="316.60" y2="381.00" stroke="#505050" stroke-width="1.0" />
<text transform="translate(316.60,388.70) scale(0.85,1)" font-size="8.8" text-anchor="middle" fill="#262626" font-weight="normal" stroke="#262626" stroke-width="0.12" >0</text>
<line x1="340.10" y1="376.60" x2="340.10" y2="381.00" stroke="#505050" stroke-width="1.0" />
<text transform="translate(340.10,388.70) scale(0.85,1)" font-size="8.8" text-anchor="middle" fill="#262626" font-weight="normal" stroke="#262626" stroke-width="0.12" >1</text>
<line x1="363.60" y1="376.60" x2="363.60" y2="381.00" stroke="#505050" stroke-width="1.0" />
<text transform="translate(363.60,388.70) scale(0.85,1)" font-size="8.8" text-anchor="middle" fill="#262626" font-weight="normal" stroke="#262626" stroke-width="0.12" >2</text>
<line x1="387.50" y1="376.60" x2="387.50" y2="381.00" stroke="#505050" stroke-width="1.0" />
<text transform="translate(386.50,388.70) scale(0.85,1)" font-size="8.8" text-anchor="middle" fill="#262626" font-weight="normal" stroke="#262626" stroke-width="0.12" >3</text>
<text transform="translate(392.40,388.60) scale(0.8,1)" font-size="8.6" text-anchor="start" fill="#262626" font-weight="normal" stroke="#262626" stroke-width="0.12" letter-spacing="0.1">d.p.i.</text>
<polyline points="316.60,365.60 340.10,346.18 363.60,350.29 387.50,357.37" fill="none" stroke="#999" stroke-width="0.95"/>
<polyline points="316.60,365.60 340.10,343.89 363.60,342.75 387.50,354.63" fill="none" stroke="#555" stroke-width="0.95"/>
<polyline points="316.60,365.60 340.10,349.15 363.60,350.29 387.50,351.89" fill="none" stroke="#f06060" stroke-width="0.95"/>
<polyline points="316.60,365.60 340.10,347.32 363.60,356.46 387.50,358.97" fill="none" stroke="#a81010" stroke-width="0.95"/>
<line x1="363.60" y1="337.72" x2="363.60" y2="347.32" stroke="#555" stroke-width="0.85" />
<line x1="361.40" y1="337.72" x2="365.80" y2="337.72" stroke="#555" stroke-width="0.85" />
<line x1="361.40" y1="347.32" x2="365.80" y2="347.32" stroke="#555" stroke-width="0.85" />
<line x1="340.10" y1="340.47" x2="340.10" y2="353.72" stroke="#f06060" stroke-width="0.85" />
<line x1="337.90" y1="340.47" x2="342.30" y2="340.47" stroke="#f06060" stroke-width="0.85" />
<line x1="337.90" y1="353.72" x2="342.30" y2="353.72" stroke="#f06060" stroke-width="0.85" />
<line x1="387.50" y1="347.32" x2="387.50" y2="355.32" stroke="#f06060" stroke-width="0.85" />
<line x1="385.30" y1="347.32" x2="389.70" y2="347.32" stroke="#f06060" stroke-width="0.85" />
<line x1="385.30" y1="355.32" x2="389.70" y2="355.32" stroke="#f06060" stroke-width="0.85" />
<line x1="363.60" y1="353.03" x2="363.60" y2="359.20" stroke="#a81010" stroke-width="0.85" />
<line x1="361.40" y1="353.03" x2="365.80" y2="353.03" stroke="#a81010" stroke-width="0.85" />
<line x1="361.40" y1="359.20" x2="365.80" y2="359.20" stroke="#a81010" stroke-width="0.85" />
<rect x="314.50" y="363.50" width="4.20" height="4.20" fill="#a00000" stroke="#380000" stroke-width="1.25"/>
<rect x="338.00" y="345.22" width="4.20" height="4.20" fill="#a00000" stroke="#380000" stroke-width="1.25"/>
<rect x="361.50" y="354.36" width="4.20" height="4.20" fill="#a00000" stroke="#380000" stroke-width="1.25"/>
<rect x="385.40" y="356.87" width="4.20" height="4.20" fill="#a00000" stroke="#380000" stroke-width="1.25"/>
<circle cx="316.60" cy="365.60" r="2.10" fill="#f08080" stroke="#4a1e1e" stroke-width="1.25"/>
<circle cx="340.10" cy="349.15" r="2.10" fill="#f08080" stroke="#4a1e1e" stroke-width="1.25"/>
<circle cx="363.60" cy="350.29" r="2.10" fill="#f08080" stroke="#4a1e1e" stroke-width="1.25"/>
<circle cx="387.50" cy="351.89" r="2.10" fill="#f08080" stroke="#4a1e1e" stroke-width="1.25"/>
<rect x="314.50" y="363.50" width="4.20" height="4.20" fill="#858585" stroke="#333333" stroke-width="1.25"/>
<rect x="338.00" y="341.79" width="4.20" height="4.20" fill="#858585" stroke="#333333" stroke-width="1.25"/>
<rect x="361.50" y="340.65" width="4.20" height="4.20" fill="#858585" stroke="#333333" stroke-width="1.25"/>
<rect x="385.40" y="352.53" width="4.20" height="4.20" fill="#858585" stroke="#333333" stroke-width="1.25"/>
<circle cx="316.60" cy="365.60" r="2.10" fill="#a6a6a6" stroke="#333333" stroke-width="1.25"/>
<circle cx="340.10" cy="346.18" r="2.10" fill="#a6a6a6" stroke="#333333" stroke-width="1.25"/>
<circle cx="363.60" cy="350.29" r="2.10" fill="#a6a6a6" stroke="#333333" stroke-width="1.25"/>
<circle cx="387.50" cy="357.37" r="2.10" fill="#a6a6a6" stroke="#333333" stroke-width="1.25"/>
<text transform="translate(148.00,107.50) scale(1.0,1)" font-size="10.4" text-anchor="start" fill="#111" font-weight="bold" stroke="#111" stroke-width="0.35" >C</text>
<text transform="translate(150.80,171.60) rotate(-90)" font-size="8.0" text-anchor="middle" fill="#262626" stroke="#262626" stroke-width="0.18" textLength="110" lengthAdjust="spacingAndGlyphs">cumulative mass reduction [AUC]</text>
<rect x="176.80" y="195.30" width="13.50" height="24.00" fill="#a9a9a9" stroke="none" stroke-width="0"/>
<rect x="196.90" y="171.50" width="13.70" height="47.80" fill="#5c5cf8" stroke="none" stroke-width="0"/>
<rect x="232.10" y="197.80" width="12.60" height="21.50" fill="#8c8c8c" stroke="none" stroke-width="0"/>
<rect x="252.10" y="204.80" width="13.50" height="14.50" fill="#1414f2" stroke="none" stroke-width="0"/>
<line x1="183.60" y1="189.70" x2="183.60" y2="195.20" stroke="#a0a0a0" stroke-width="0.85" />
<line x1="180.60" y1="189.70" x2="186.60" y2="189.70" stroke="#a0a0a0" stroke-width="0.85" />
<line x1="203.70" y1="166.60" x2="203.70" y2="172.10" stroke="#7070ff" stroke-width="0.85" />
<line x1="200.70" y1="166.60" x2="206.70" y2="166.60" stroke="#7070ff" stroke-width="0.85" />
<line x1="238.40" y1="194.00" x2="238.40" y2="199.50" stroke="#888" stroke-width="0.85" />
<line x1="235.40" y1="194.00" x2="241.40" y2="194.00" stroke="#888" stroke-width="0.85" />
<line x1="258.40" y1="202.00" x2="258.40" y2="207.50" stroke="#6060ff" stroke-width="0.85" />
<line x1="255.40" y1="202.00" x2="261.40" y2="202.00" stroke="#6060ff" stroke-width="0.85" />
<circle cx="183.60" cy="143.50" r="2.15" fill="#a6a6a6" stroke="#333333" stroke-width="0.9"/>
<circle cx="181.50" cy="183.20" r="2.15" fill="#a6a6a6" stroke="#333333" stroke-width="0.9"/>
<circle cx="184.00" cy="184.60" r="2.15" fill="#a6a6a6" stroke="#333333" stroke-width="0.9"/>
<circle cx="186.30" cy="179.30" r="2.15" fill="#a6a6a6" stroke="#333333" stroke-width="0.9"/>
<circle cx="188.10" cy="181.30" r="2.15" fill="#a6a6a6" stroke="#333333" stroke-width="0.9"/>
<circle cx="178.60" cy="206.50" r="2.15" fill="#a6a6a6" stroke="#333333" stroke-width="0.9"/>
<circle cx="181.50" cy="208.30" r="2.15" fill="#a6a6a6" stroke="#333333" stroke-width="0.9"/>
<circle cx="184.90" cy="204.30" r="2.15" fill="#a6a6a6" stroke="#333333" stroke-width="0.9"/>
<circle cx="188.10" cy="206.50" r="2.15" fill="#a6a6a6" stroke="#333333" stroke-width="0.9"/>
<circle cx="186.30" cy="208.60" r="2.15" fill="#a6a6a6" stroke="#333333" stroke-width="0.9"/>
<circle cx="184.00" cy="212.70" r="2.15" fill="#a6a6a6" stroke="#333333" stroke-width="0.9"/>
<circle cx="183.70" cy="218.80" r="2.15" fill="#a6a6a6" stroke="#333333" stroke-width="0.9"/>
<circle cx="184.50" cy="183.00" r="2.15" fill="#a6a6a6" stroke="#333333" stroke-width="0.9"/>
<circle cx="181.00" cy="205.00" r="2.15" fill="#a6a6a6" stroke="#333333" stroke-width="0.9"/>
<circle cx="199.20" cy="142.70" r="2.15" fill="#5c5cf2" stroke="#1c1c5c" stroke-width="0.9"/>
<circle cx="203.90" cy="144.40" r="2.15" fill="#5c5cf2" stroke="#1c1c5c" stroke-width="0.9"/>
<circle cx="208.70" cy="142.90" r="2.15" fill="#5c5cf2" stroke="#1c1c5c" stroke-width="0.9"/>
<circle cx="201.30" cy="152.90" r="2.15" fill="#5c5cf2" stroke="#1c1c5c" stroke-width="0.9"/>
<circle cx="206.20" cy="152.20" r="2.15" fill="#5c5cf2" stroke="#1c1c5c" stroke-width="0.9"/>
<circle cx="199.00" cy="157.30" r="2.15" fill="#5c5cf2" stroke="#1c1c5c" stroke-width="0.9"/>
<circle cx="203.90" cy="160.70" r="2.15" fill="#5c5cf2" stroke="#1c1c5c" stroke-width="0.9"/>
<circle cx="199.40" cy="172.00" r="2.15" fill="#5c5cf2" stroke="#1c1c5c" stroke-width="0.9"/>
<circle cx="204.10" cy="171.50" r="2.15" fill="#5c5cf2" stroke="#1c1c5c" stroke-width="0.9"/>
<circle cx="208.70" cy="175.20" r="2.15" fill="#5c5cf2" stroke="#1c1c5c" stroke-width="0.9"/>
<circle cx="204.10" cy="179.10" r="2.15" fill="#5c5cf2" stroke="#1c1c5c" stroke-width="0.9"/>
<circle cx="204.10" cy="183.60" r="2.15" fill="#5c5cf2" stroke="#1c1c5c" stroke-width="0.9"/>
<circle cx="204.10" cy="192.60" r="2.15" fill="#5c5cf2" stroke="#1c1c5c" stroke-width="0.9"/>
<circle cx="204.10" cy="209.40" r="2.15" fill="#5c5cf2" stroke="#1c1c5c" stroke-width="0.9"/>
<circle cx="208.70" cy="211.30" r="2.15" fill="#5c5cf2" stroke="#1c1c5c" stroke-width="0.9"/>
<circle cx="199.40" cy="213.30" r="2.15" fill="#5c5cf2" stroke="#1c1c5c" stroke-width="0.9"/>
<rect x="236.25" y="166.95" width="4.30" height="4.30" fill="#858585" stroke="#333333" stroke-width="0.9"/>
<rect x="234.15" y="175.95" width="4.30" height="4.30" fill="#858585" stroke="#333333" stroke-width="0.9"/>
<rect x="237.85" y="175.95" width="4.30" height="4.30" fill="#858585" stroke="#333333" stroke-width="0.9"/>
<rect x="236.25" y="183.05" width="4.30" height="4.30" fill="#858585" stroke="#333333" stroke-width="0.9"/>
<rect x="231.05" y="188.55" width="4.30" height="4.30" fill="#858585" stroke="#333333" stroke-width="0.9"/>
<rect x="231.55" y="191.65" width="4.30" height="4.30" fill="#858585" stroke="#333333" stroke-width="0.9"/>
<rect x="234.15" y="192.45" width="4.30" height="4.30" fill="#858585" stroke="#333333" stroke-width="0.9"/>
<rect x="237.85" y="190.55" width="4.30" height="4.30" fill="#858585" stroke="#333333" stroke-width="0.9"/>
<rect x="240.95" y="193.75" width="4.30" height="4.30" fill="#858585" stroke="#333333" stroke-width="0.9"/>
<rect x="237.35" y="199.55" width="4.30" height="4.30" fill="#858585" stroke="#333333" stroke-width="0.9"/>
<rect x="234.15" y="203.45" width="4.30" height="4.30" fill="#858585" stroke="#333333" stroke-width="0.9"/>
<rect x="232.65" y="208.95" width="4.30" height="4.30" fill="#858585" stroke="#333333" stroke-width="0.9"/>
<rect x="236.25" y="212.15" width="4.30" height="4.30" fill="#858585" stroke="#333333" stroke-width="0.9"/>
<rect x="238.55" y="210.55" width="4.30" height="4.30" fill="#858585" stroke="#333333" stroke-width="0.9"/>
<rect x="236.25" y="216.85" width="4.30" height="4.30" fill="#858585" stroke="#333333" stroke-width="0.9"/>
<rect x="256.25" y="166.05" width="4.30" height="4.30" fill="#0000ee" stroke="#00004a" stroke-width="0.9"/>
<rect x="256.25" y="175.15" width="4.30" height="4.30" fill="#0000ee" stroke="#00004a" stroke-width="0.9"/>
<rect x="256.25" y="187.45" width="4.30" height="4.30" fill="#0000ee" stroke="#00004a" stroke-width="0.9"/>
<rect x="253.55" y="191.25" width="4.30" height="4.30" fill="#0000ee" stroke="#00004a" stroke-width="0.9"/>
<rect x="256.25" y="194.85" width="4.30" height="4.30" fill="#0000ee" stroke="#00004a" stroke-width="0.9"/>
<rect x="258.25" y="199.05" width="4.30" height="4.30" fill="#0000ee" stroke="#00004a" stroke-width="0.9"/>
<rect x="254.85" y="203.35" width="4.30" height="4.30" fill="#0000ee" stroke="#00004a" stroke-width="0.9"/>
<rect x="259.35" y="204.35" width="4.30" height="4.30" fill="#0000ee" stroke="#00004a" stroke-width="0.9"/>
<rect x="251.85" y="207.35" width="4.30" height="4.30" fill="#0000ee" stroke="#00004a" stroke-width="0.9"/>
<rect x="256.35" y="208.35" width="4.30" height="4.30" fill="#0000ee" stroke="#00004a" stroke-width="0.9"/>
<rect x="260.35" y="209.35" width="4.30" height="4.30" fill="#0000ee" stroke="#00004a" stroke-width="0.9"/>
<rect x="251.35" y="212.35" width="4.30" height="4.30" fill="#0000ee" stroke="#00004a" stroke-width="0.9"/>
<rect x="255.35" y="212.85" width="4.30" height="4.30" fill="#0000ee" stroke="#00004a" stroke-width="0.9"/>
<rect x="259.35" y="213.35" width="4.30" height="4.30" fill="#0000ee" stroke="#00004a" stroke-width="0.9"/>
<rect x="252.35" y="216.85" width="4.30" height="4.30" fill="#0000ee" stroke="#00004a" stroke-width="0.9"/>
<rect x="256.35" y="216.85" width="4.30" height="4.30" fill="#0000ee" stroke="#00004a" stroke-width="0.9"/>
<rect x="260.35" y="216.85" width="4.30" height="4.30" fill="#0000ee" stroke="#00004a" stroke-width="0.9"/>
<line x1="169.90" y1="219.30" x2="272.00" y2="219.30" stroke="#4a4a4a" stroke-width="1.05" />
<line x1="169.90" y1="120.50" x2="169.90" y2="224.10" stroke="#505050" stroke-width="1.15" />
<line x1="169.90" y1="223.60" x2="272.00" y2="223.60" stroke="#4a4a4a" stroke-width="1.15" />
<line x1="166.70" y1="120.90" x2="169.90" y2="120.90" stroke="#505050" stroke-width="1.0" />
<text transform="translate(165.30,123.80) scale(0.84,1)" font-size="8.5" text-anchor="end" fill="#262626" font-weight="normal" stroke="#262626" stroke-width="0.12" >20</text>
<line x1="166.70" y1="145.50" x2="169.90" y2="145.50" stroke="#505050" stroke-width="1.0" />
<text transform="translate(165.30,148.40) scale(0.84,1)" font-size="8.5" text-anchor="end" fill="#262626" font-weight="normal" stroke="#262626" stroke-width="0.12" >15</text>
<line x1="166.70" y1="170.10" x2="169.90" y2="170.10" stroke="#505050" stroke-width="1.0" />
<text transform="translate(165.30,173.00) scale(0.84,1)" font-size="8.5" text-anchor="end" fill="#262626" font-weight="normal" stroke="#262626" stroke-width="0.12" >10</text>
<line x1="166.70" y1="194.70" x2="169.90" y2="194.70" stroke="#505050" stroke-width="1.0" />
<text transform="translate(165.30,197.60) scale(0.84,1)" font-size="8.5" text-anchor="end" fill="#262626" font-weight="normal" stroke="#262626" stroke-width="0.12" >5</text>
<line x1="166.70" y1="219.30" x2="169.90" y2="219.30" stroke="#505050" stroke-width="1.0" />
<text transform="translate(165.30,222.20) scale(0.84,1)" font-size="8.5" text-anchor="end" fill="#262626" font-weight="normal" stroke="#262626" stroke-width="0.12" >0</text>
<line x1="183.60" y1="223.60" x2="183.60" y2="227.20" stroke="#505050" stroke-width="1.0" />
<line x1="203.60" y1="223.60" x2="203.60" y2="227.20" stroke="#505050" stroke-width="1.0" />
<line x1="238.40" y1="223.60" x2="238.40" y2="227.20" stroke="#505050" stroke-width="1.0" />
<line x1="258.40" y1="223.60" x2="258.40" y2="227.20" stroke="#505050" stroke-width="1.0" />
<text transform="translate(184.00,236.70) scale(0.86,1)" font-size="8.8" text-anchor="middle" fill="#262626" font-weight="normal" stroke="#262626" stroke-width="0.12" >PBS</text>
<text transform="translate(203.40,236.70) scale(0.86,1)" font-size="8.8" text-anchor="middle" fill="#262626" font-weight="normal" stroke="#262626" stroke-width="0.12" >Beta</text>
<text transform="translate(237.60,236.70) scale(0.86,1)" font-size="8.8" text-anchor="middle" fill="#262626" font-weight="normal" stroke="#262626" stroke-width="0.12" >PBS</text>
<text transform="translate(259.30,236.70) scale(0.86,1)" font-size="8.8" text-anchor="middle" fill="#262626" font-weight="normal" stroke="#262626" stroke-width="0.12" >Beta</text>
<line x1="172.70" y1="244.20" x2="222.20" y2="244.20" stroke="#505050" stroke-width="1.1" />
<line x1="227.60" y1="244.20" x2="277.60" y2="244.20" stroke="#505050" stroke-width="1.1" />
<text transform="translate(197.40,255.40) scale(0.86,1)" font-size="8.5" text-anchor="middle" fill="#262626" font-weight="normal" stroke="#262626" stroke-width="0.12" >wild-type</text>
<text transform="translate(255.30,255.40) scale(0.86,1)" font-size="8.5" text-anchor="middle" fill="#262626" font-weight="normal" stroke="#262626" stroke-width="0.12" >TMPRSS2-K.O.</text>
<path d="M182.60,132.50 V127.20 H202.60 V132.50" fill="none" stroke="#3a3a3a" stroke-width="1.05"/>
<circle cx="189.80" cy="122.30" r="1.15" fill="#111"/>
<path d="M189.80,120.55 L189.80,124.05 M191.32,121.42 L188.28,123.17 M191.32,123.17 L188.28,121.42 " stroke="#111" stroke-width="0.8"/>
<circle cx="195.20" cy="122.30" r="1.15" fill="#111"/>
<path d="M195.20,120.55 L195.20,124.05 M196.72,121.42 L193.68,123.17 M196.72,123.17 L193.68,121.42 " stroke="#111" stroke-width="0.8"/>
<path d="M205.20,132.30 V127.00 H263.60 V132.30" fill="none" stroke="#3a3a3a" stroke-width="1.05"/>
<circle cx="228.70" cy="122.10" r="1.15" fill="#111"/>
<path d="M228.70,120.35 L228.70,123.85 M230.22,121.22 L227.18,122.97 M230.22,122.97 L227.18,121.22 " stroke="#111" stroke-width="0.8"/>
<circle cx="234.10" cy="122.10" r="1.15" fill="#111"/>
<path d="M234.10,120.35 L234.10,123.85 M235.62,121.22 L232.58,122.97 M235.62,122.97 L232.58,121.22 " stroke="#111" stroke-width="0.8"/>
<circle cx="239.50" cy="122.10" r="1.15" fill="#111"/>
<path d="M239.50,120.35 L239.50,123.85 M241.02,121.22 L237.98,122.97 M241.02,122.97 L237.98,121.22 " stroke="#111" stroke-width="0.8"/>
<text transform="translate(148.00,261.70) scale(1.0,1)" font-size="10.4" text-anchor="start" fill="#111" font-weight="bold" stroke="#111" stroke-width="0.35" >G</text>
<text transform="translate(150.80,324.30) rotate(-90)" font-size="8.0" text-anchor="middle" fill="#262626" stroke="#262626" stroke-width="0.18" textLength="110" lengthAdjust="spacingAndGlyphs">cumulative mass reduction [AUC]</text>
<rect x="177.00" y="348.50" width="13.20" height="23.50" fill="#a9a9a9" stroke="none" stroke-width="0"/>
<rect x="197.00" y="362.60" width="14.00" height="9.40" fill="#f59494" stroke="none" stroke-width="0"/>
<rect x="231.50" y="345.20" width="13.50" height="26.80" fill="#8c8c8c" stroke="none" stroke-width="0"/>
<rect x="251.80" y="360.50" width="13.40" height="11.50" fill="#b40000" stroke="none" stroke-width="0"/>
<line x1="183.60" y1="342.70" x2="183.60" y2="348.20" stroke="#a0a0a0" stroke-width="0.85" />
<line x1="180.60" y1="342.70" x2="186.60" y2="342.70" stroke="#a0a0a0" stroke-width="0.85" />
<line x1="203.70" y1="358.70" x2="203.70" y2="364.20" stroke="#f08080" stroke-width="0.85" />
<line x1="200.70" y1="358.70" x2="206.70" y2="358.70" stroke="#f08080" stroke-width="0.85" />
<line x1="238.40" y1="341.30" x2="238.40" y2="346.80" stroke="#888" stroke-width="0.85" />
<line x1="235.40" y1="341.30" x2="241.40" y2="341.30" stroke="#888" stroke-width="0.85" />
<line x1="258.40" y1="357.70" x2="258.40" y2="363.20" stroke="#d04040" stroke-width="0.85" />
<line x1="255.40" y1="357.70" x2="261.40" y2="357.70" stroke="#d04040" stroke-width="0.85" />
<circle cx="183.60" cy="296.20" r="2.15" fill="#a6a6a6" stroke="#333333" stroke-width="0.9"/>
<circle cx="181.50" cy="335.90" r="2.15" fill="#a6a6a6" stroke="#333333" stroke-width="0.9"/>
<circle cx="184.00" cy="337.30" r="2.15" fill="#a6a6a6" stroke="#333333" stroke-width="0.9"/>
<circle cx="186.30" cy="332.00" r="2.15" fill="#a6a6a6" stroke="#333333" stroke-width="0.9"/>
<circle cx="188.10" cy="334.00" r="2.15" fill="#a6a6a6" stroke="#333333" stroke-width="0.9"/>
<circle cx="178.60" cy="359.20" r="2.15" fill="#a6a6a6" stroke="#333333" stroke-width="0.9"/>
<circle cx="181.50" cy="361.00" r="2.15" fill="#a6a6a6" stroke="#333333" stroke-width="0.9"/>
<circle cx="184.90" cy="357.00" r="2.15" fill="#a6a6a6" stroke="#333333" stroke-width="0.9"/>
<circle cx="188.10" cy="359.20" r="2.15" fill="#a6a6a6" stroke="#333333" stroke-width="0.9"/>
<circle cx="186.30" cy="361.30" r="2.15" fill="#a6a6a6" stroke="#333333" stroke-width="0.9"/>
<circle cx="184.00" cy="365.40" r="2.15" fill="#a6a6a6" stroke="#333333" stroke-width="0.9"/>
<circle cx="183.70" cy="371.50" r="2.15" fill="#a6a6a6" stroke="#333333" stroke-width="0.9"/>
<circle cx="184.50" cy="335.70" r="2.15" fill="#a6a6a6" stroke="#333333" stroke-width="0.9"/>
<circle cx="181.00" cy="357.70" r="2.15" fill="#a6a6a6" stroke="#333333" stroke-width="0.9"/>
<circle cx="203.70" cy="327.80" r="2.15" fill="#f08080" stroke="#4a1e1e" stroke-width="0.9"/>
<circle cx="203.70" cy="338.00" r="2.15" fill="#f08080" stroke="#4a1e1e" stroke-width="0.9"/>
<circle cx="202.90" cy="347.60" r="2.15" fill="#f08080" stroke="#4a1e1e" stroke-width="0.9"/>
<circle cx="204.90" cy="345.80" r="2.15" fill="#f08080" stroke="#4a1e1e" stroke-width="0.9"/>
<circle cx="203.70" cy="361.60" r="2.15" fill="#f08080" stroke="#4a1e1e" stroke-width="0.9"/>
<circle cx="203.70" cy="364.80" r="2.15" fill="#f08080" stroke="#4a1e1e" stroke-width="0.9"/>
<circle cx="203.70" cy="367.80" r="2.15" fill="#f08080" stroke="#4a1e1e" stroke-width="0.9"/>
<circle cx="198.60" cy="371.00" r="2.15" fill="#f08080" stroke="#4a1e1e" stroke-width="0.9"/>
<circle cx="202.10" cy="371.00" r="2.15" fill="#f08080" stroke="#4a1e1e" stroke-width="0.9"/>
<circle cx="205.60" cy="371.00" r="2.15" fill="#f08080" stroke="#4a1e1e" stroke-width="0.9"/>
<circle cx="209.10" cy="371.00" r="2.15" fill="#f08080" stroke="#4a1e1e" stroke-width="0.9"/>
<circle cx="200.80" cy="368.40" r="2.15" fill="#f08080" stroke="#4a1e1e" stroke-width="0.9"/>
<circle cx="206.80" cy="368.40" r="2.15" fill="#f08080" stroke="#4a1e1e" stroke-width="0.9"/>
<rect x="236.25" y="319.65" width="4.30" height="4.30" fill="#858585" stroke="#333333" stroke-width="0.9"/>
<rect x="234.15" y="328.65" width="4.30" height="4.30" fill="#858585" stroke="#333333" stroke-width="0.9"/>
<rect x="237.85" y="328.65" width="4.30" height="4.30" fill="#858585" stroke="#333333" stroke-width="0.9"/>
<rect x="236.25" y="335.75" width="4.30" height="4.30" fill="#858585" stroke="#333333" stroke-width="0.9"/>
<rect x="231.05" y="341.25" width="4.30" height="4.30" fill="#858585" stroke="#333333" stroke-width="0.9"/>
<rect x="231.55" y="344.35" width="4.30" height="4.30" fill="#858585" stroke="#333333" stroke-width="0.9"/>
<rect x="234.15" y="345.15" width="4.30" height="4.30" fill="#858585" stroke="#333333" stroke-width="0.9"/>
<rect x="237.85" y="343.25" width="4.30" height="4.30" fill="#858585" stroke="#333333" stroke-width="0.9"/>
<rect x="240.95" y="346.45" width="4.30" height="4.30" fill="#858585" stroke="#333333" stroke-width="0.9"/>
<rect x="237.35" y="352.25" width="4.30" height="4.30" fill="#858585" stroke="#333333" stroke-width="0.9"/>
<rect x="234.15" y="356.15" width="4.30" height="4.30" fill="#858585" stroke="#333333" stroke-width="0.9"/>
<rect x="232.65" y="361.65" width="4.30" height="4.30" fill="#858585" stroke="#333333" stroke-width="0.9"/>
<rect x="236.25" y="364.85" width="4.30" height="4.30" fill="#858585" stroke="#333333" stroke-width="0.9"/>
<rect x="238.55" y="363.25" width="4.30" height="4.30" fill="#858585" stroke="#333333" stroke-width="0.9"/>
<rect x="236.25" y="369.55" width="4.30" height="4.30" fill="#858585" stroke="#333333" stroke-width="0.9"/>
<rect x="256.15" y="322.35" width="4.30" height="4.30" fill="#a00000" stroke="#380000" stroke-width="0.9"/>
<rect x="256.15" y="336.95" width="4.30" height="4.30" fill="#a00000" stroke="#380000" stroke-width="0.9"/>
<rect x="256.15" y="352.85" width="4.30" height="4.30" fill="#a00000" stroke="#380000" stroke-width="0.9"/>
<rect x="256.15" y="357.05" width="4.30" height="4.30" fill="#a00000" stroke="#380000" stroke-width="0.9"/>
<rect x="252.15" y="359.85" width="4.30" height="4.30" fill="#a00000" stroke="#380000" stroke-width="0.9"/>
<rect x="256.15" y="361.85" width="4.30" height="4.30" fill="#a00000" stroke="#380000" stroke-width="0.9"/>
<rect x="260.15" y="362.35" width="4.30" height="4.30" fill="#a00000" stroke="#380000" stroke-width="0.9"/>
<rect x="251.85" y="368.35" width="4.30" height="4.30" fill="#a00000" stroke="#380000" stroke-width="0.9"/>
<rect x="256.15" y="368.35" width="4.30" height="4.30" fill="#a00000" stroke="#380000" stroke-width="0.9"/>
<rect x="260.35" y="368.35" width="4.30" height="4.30" fill="#a00000" stroke="#380000" stroke-width="0.9"/>
<rect x="254.05" y="364.85" width="4.30" height="4.30" fill="#a00000" stroke="#380000" stroke-width="0.9"/>
<rect x="258.25" y="364.85" width="4.30" height="4.30" fill="#a00000" stroke="#380000" stroke-width="0.9"/>
<rect x="252.85" y="363.85" width="4.30" height="4.30" fill="#a00000" stroke="#380000" stroke-width="0.9"/>
<rect x="259.45" y="358.85" width="4.30" height="4.30" fill="#a00000" stroke="#380000" stroke-width="0.9"/>
<rect x="251.35" y="366.35" width="4.30" height="4.30" fill="#a00000" stroke="#380000" stroke-width="0.9"/>
<rect x="260.85" y="365.85" width="4.30" height="4.30" fill="#a00000" stroke="#380000" stroke-width="0.9"/>
<rect x="256.15" y="365.85" width="4.30" height="4.30" fill="#a00000" stroke="#380000" stroke-width="0.9"/>
<line x1="169.90" y1="372.00" x2="272.00" y2="372.00" stroke="#4a4a4a" stroke-width="1.05" />
<line x1="169.90" y1="273.20" x2="169.90" y2="376.80" stroke="#505050" stroke-width="1.15" />
<line x1="169.90" y1="376.30" x2="272.00" y2="376.30" stroke="#4a4a4a" stroke-width="1.15" />
<line x1="166.70" y1="273.60" x2="169.90" y2="273.60" stroke="#505050" stroke-width="1.0" />
<text transform="translate(165.30,276.50) scale(0.84,1)" font-size="8.5" text-anchor="end" fill="#262626" font-weight="normal" stroke="#262626" stroke-width="0.12" >20</text>
<line x1="166.70" y1="298.20" x2="169.90" y2="298.20" stroke="#505050" stroke-width="1.0" />
<text transform="translate(165.30,301.10) scale(0.84,1)" font-size="8.5" text-anchor="end" fill="#262626" font-weight="normal" stroke="#262626" stroke-width="0.12" >15</text>
<line x1="166.70" y1="322.80" x2="169.90" y2="322.80" stroke="#505050" stroke-width="1.0" />
<text transform="translate(165.30,325.70) scale(0.84,1)" font-size="8.5" text-anchor="end" fill="#262626" font-weight="normal" stroke="#262626" stroke-width="0.12" >10</text>
<line x1="166.70" y1="347.40" x2="169.90" y2="347.40" stroke="#505050" stroke-width="1.0" />
<text transform="translate(165.30,350.30) scale(0.84,1)" font-size="8.5" text-anchor="end" fill="#262626" font-weight="normal" stroke="#262626" stroke-width="0.12" >5</text>
<line x1="166.70" y1="372.00" x2="169.90" y2="372.00" stroke="#505050" stroke-width="1.0" />
<text transform="translate(165.30,374.90) scale(0.84,1)" font-size="8.5" text-anchor="end" fill="#262626" font-weight="normal" stroke="#262626" stroke-width="0.12" >0</text>
<line x1="183.60" y1="376.30" x2="183.60" y2="379.90" stroke="#505050" stroke-width="1.0" />
<line x1="203.60" y1="376.30" x2="203.60" y2="379.90" stroke="#505050" stroke-width="1.0" />
<line x1="238.40" y1="376.30" x2="238.40" y2="379.90" stroke="#505050" stroke-width="1.0" />
<line x1="258.40" y1="376.30" x2="258.40" y2="379.90" stroke="#505050" stroke-width="1.0" />
<text transform="translate(180.50,389.40) scale(0.86,1)" font-size="8.8" text-anchor="middle" fill="#262626" font-weight="normal" stroke="#262626" stroke-width="0.12" >PBS</text>
<text transform="translate(206.20,389.40) scale(0.86,1)" font-size="8.8" text-anchor="middle" fill="#262626" font-weight="normal" stroke="#262626" stroke-width="0.12" >Omicron</text>
<text transform="translate(235.00,389.40) scale(0.86,1)" font-size="8.8" text-anchor="middle" fill="#262626" font-weight="normal" stroke="#262626" stroke-width="0.12" >PBS</text>
<text transform="translate(261.40,389.40) scale(0.86,1)" font-size="8.8" text-anchor="middle" fill="#262626" font-weight="normal" stroke="#262626" stroke-width="0.12" >Omicron</text>
<line x1="172.70" y1="396.90" x2="222.20" y2="396.90" stroke="#505050" stroke-width="1.1" />
<line x1="227.60" y1="396.90" x2="277.60" y2="396.90" stroke="#505050" stroke-width="1.1" />
<text transform="translate(197.40,408.10) scale(0.86,1)" font-size="8.5" text-anchor="middle" fill="#262626" font-weight="normal" stroke="#262626" stroke-width="0.12" >wild-type</text>
<text transform="translate(255.30,408.10) scale(0.86,1)" font-size="8.5" text-anchor="middle" fill="#262626" font-weight="normal" stroke="#262626" stroke-width="0.12" >TMPRSS2-K.O.</text>
<text transform="translate(418.90,107.50) scale(1.0,1)" font-size="10.4" text-anchor="start" fill="#111" font-weight="bold" stroke="#111" stroke-width="0.35" >E</text>
<text transform="translate(420.00,172.10) rotate(-90)" font-size="8.0" text-anchor="middle" fill="#262626" stroke="#262626" stroke-width="0.18" textLength="80.6" lengthAdjust="spacingAndGlyphs">cumulative clinical score</text>
<rect x="441.90" y="206.00" width="13.90" height="11.20" fill="#a9a9a9" stroke="none" stroke-width="0"/>
<rect x="462.20" y="184.20" width="14.00" height="33.00" fill="#5c5cf8" stroke="none" stroke-width="0"/>
<rect x="496.30" y="203.10" width="13.90" height="14.10" fill="#8c8c8c" stroke="none" stroke-width="0"/>
<rect x="517.00" y="205.60" width="13.10" height="11.60" fill="#1414f2" stroke="none" stroke-width="0"/>
<circle cx="448.70" cy="185.10" r="1.95" fill="#a6a6a6" stroke="#333333" stroke-width="1.0"/>
<circle cx="445.70" cy="197.94" r="1.95" fill="#a6a6a6" stroke="#333333" stroke-width="1.0"/>
<circle cx="448.70" cy="197.94" r="1.95" fill="#a6a6a6" stroke="#333333" stroke-width="1.0"/>
<circle cx="451.70" cy="197.94" r="1.95" fill="#a6a6a6" stroke="#333333" stroke-width="1.0"/>
<circle cx="448.70" cy="204.36" r="1.95" fill="#a6a6a6" stroke="#333333" stroke-width="1.0"/>
<circle cx="444.20" cy="210.78" r="1.95" fill="#a6a6a6" stroke="#333333" stroke-width="1.0"/>
<circle cx="447.20" cy="210.78" r="1.95" fill="#a6a6a6" stroke="#333333" stroke-width="1.0"/>
<circle cx="450.20" cy="210.78" r="1.95" fill="#a6a6a6" stroke="#333333" stroke-width="1.0"/>
<circle cx="453.20" cy="210.78" r="1.95" fill="#a6a6a6" stroke="#333333" stroke-width="1.0"/>
<circle cx="448.70" cy="217.20" r="1.95" fill="#a6a6a6" stroke="#333333" stroke-width="1.0"/>
<circle cx="469.00" cy="153.00" r="1.95" fill="#5c5cf2" stroke="#1c1c5c" stroke-width="1.0"/>
<circle cx="469.00" cy="159.42" r="1.95" fill="#5c5cf2" stroke="#1c1c5c" stroke-width="1.0"/>
<circle cx="469.00" cy="172.26" r="1.95" fill="#5c5cf2" stroke="#1c1c5c" stroke-width="1.0"/>
<circle cx="466.00" cy="178.68" r="1.95" fill="#5c5cf2" stroke="#1c1c5c" stroke-width="1.0"/>
<circle cx="469.00" cy="178.68" r="1.95" fill="#5c5cf2" stroke="#1c1c5c" stroke-width="1.0"/>
<circle cx="472.00" cy="178.68" r="1.95" fill="#5c5cf2" stroke="#1c1c5c" stroke-width="1.0"/>
<circle cx="463.00" cy="185.10" r="1.95" fill="#5c5cf2" stroke="#1c1c5c" stroke-width="1.0"/>
<circle cx="466.00" cy="185.10" r="1.95" fill="#5c5cf2" stroke="#1c1c5c" stroke-width="1.0"/>
<circle cx="469.00" cy="185.10" r="1.95" fill="#5c5cf2" stroke="#1c1c5c" stroke-width="1.0"/>
<circle cx="472.00" cy="185.10" r="1.95" fill="#5c5cf2" stroke="#1c1c5c" stroke-width="1.0"/>
<circle cx="475.00" cy="185.10" r="1.95" fill="#5c5cf2" stroke="#1c1c5c" stroke-width="1.0"/>
<circle cx="469.00" cy="191.52" r="1.95" fill="#5c5cf2" stroke="#1c1c5c" stroke-width="1.0"/>
<circle cx="466.00" cy="197.94" r="1.95" fill="#5c5cf2" stroke="#1c1c5c" stroke-width="1.0"/>
<circle cx="469.00" cy="197.94" r="1.95" fill="#5c5cf2" stroke="#1c1c5c" stroke-width="1.0"/>
<circle cx="472.00" cy="197.94" r="1.95" fill="#5c5cf2" stroke="#1c1c5c" stroke-width="1.0"/>
<circle cx="467.50" cy="204.36" r="1.95" fill="#5c5cf2" stroke="#1c1c5c" stroke-width="1.0"/>
<circle cx="470.50" cy="204.36" r="1.95" fill="#5c5cf2" stroke="#1c1c5c" stroke-width="1.0"/>
<rect x="499.75" y="176.73" width="3.90" height="3.90" fill="#858585" stroke="#333333" stroke-width="1.0"/>
<rect x="502.75" y="176.73" width="3.90" height="3.90" fill="#858585" stroke="#333333" stroke-width="1.0"/>
<rect x="498.25" y="195.99" width="3.90" height="3.90" fill="#858585" stroke="#333333" stroke-width="1.0"/>
<rect x="501.25" y="195.99" width="3.90" height="3.90" fill="#858585" stroke="#333333" stroke-width="1.0"/>
<rect x="504.25" y="195.99" width="3.90" height="3.90" fill="#858585" stroke="#333333" stroke-width="1.0"/>
<rect x="496.75" y="202.41" width="3.90" height="3.90" fill="#858585" stroke="#333333" stroke-width="1.0"/>
<rect x="499.75" y="202.41" width="3.90" height="3.90" fill="#858585" stroke="#333333" stroke-width="1.0"/>
<rect x="502.75" y="202.41" width="3.90" height="3.90" fill="#858585" stroke="#333333" stroke-width="1.0"/>
<rect x="505.75" y="202.41" width="3.90" height="3.90" fill="#858585" stroke="#333333" stroke-width="1.0"/>
<rect x="501.25" y="208.83" width="3.90" height="3.90" fill="#858585" stroke="#333333" stroke-width="1.0"/>
<rect x="495.25" y="215.25" width="3.90" height="3.90" fill="#858585" stroke="#333333" stroke-width="1.0"/>
<rect x="498.25" y="215.25" width="3.90" height="3.90" fill="#858585" stroke="#333333" stroke-width="1.0"/>
<rect x="501.25" y="215.25" width="3.90" height="3.90" fill="#858585" stroke="#333333" stroke-width="1.0"/>
<rect x="504.25" y="215.25" width="3.90" height="3.90" fill="#858585" stroke="#333333" stroke-width="1.0"/>
<rect x="507.25" y="215.25" width="3.90" height="3.90" fill="#858585" stroke="#333333" stroke-width="1.0"/>
<rect x="521.65" y="183.15" width="3.90" height="3.90" fill="#0000ee" stroke="#00004a" stroke-width="1.0"/>
<rect x="518.65" y="189.57" width="3.90" height="3.90" fill="#0000ee" stroke="#00004a" stroke-width="1.0"/>
<rect x="521.65" y="189.57" width="3.90" height="3.90" fill="#0000ee" stroke="#00004a" stroke-width="1.0"/>
<rect x="524.65" y="189.57" width="3.90" height="3.90" fill="#0000ee" stroke="#00004a" stroke-width="1.0"/>
<rect x="518.65" y="195.99" width="3.90" height="3.90" fill="#0000ee" stroke="#00004a" stroke-width="1.0"/>
<rect x="521.65" y="195.99" width="3.90" height="3.90" fill="#0000ee" stroke="#00004a" stroke-width="1.0"/>
<rect x="524.65" y="195.99" width="3.90" height="3.90" fill="#0000ee" stroke="#00004a" stroke-width="1.0"/>
<rect x="520.15" y="202.41" width="3.90" height="3.90" fill="#0000ee" stroke="#00004a" stroke-width="1.0"/>
<rect x="523.15" y="202.41" width="3.90" height="3.90" fill="#0000ee" stroke="#00004a" stroke-width="1.0"/>
<rect x="517.15" y="208.83" width="3.90" height="3.90" fill="#0000ee" stroke="#00004a" stroke-width="1.0"/>
<rect x="520.15" y="208.83" width="3.90" height="3.90" fill="#0000ee" stroke="#00004a" stroke-width="1.0"/>
<rect x="523.15" y="208.83" width="3.90" height="3.90" fill="#0000ee" stroke="#00004a" stroke-width="1.0"/>
<rect x="526.15" y="208.83" width="3.90" height="3.90" fill="#0000ee" stroke="#00004a" stroke-width="1.0"/>
<rect x="517.15" y="215.25" width="3.90" height="3.90" fill="#0000ee" stroke="#00004a" stroke-width="1.0"/>
<rect x="520.15" y="215.25" width="3.90" height="3.90" fill="#0000ee" stroke="#00004a" stroke-width="1.0"/>
<rect x="523.15" y="215.25" width="3.90" height="3.90" fill="#0000ee" stroke="#00004a" stroke-width="1.0"/>
<rect x="526.15" y="215.25" width="3.90" height="3.90" fill="#0000ee" stroke="#00004a" stroke-width="1.0"/>
<line x1="435.00" y1="217.20" x2="537.80" y2="217.20" stroke="#4a4a4a" stroke-width="1.05" />
<line x1="435.00" y1="121.00" x2="435.00" y2="224.20" stroke="#505050" stroke-width="1.15" />
<line x1="435.00" y1="223.70" x2="537.80" y2="223.70" stroke="#4a4a4a" stroke-width="1.15" />
<line x1="431.80" y1="120.90" x2="435.00" y2="120.90" stroke="#505050" stroke-width="1.0" />
<text transform="translate(430.40,123.80) scale(0.84,1)" font-size="8.5" text-anchor="end" fill="#262626" font-weight="normal" stroke="#262626" stroke-width="0.12" >15</text>
<line x1="431.80" y1="153.00" x2="435.00" y2="153.00" stroke="#505050" stroke-width="1.0" />
<text transform="translate(430.40,155.90) scale(0.84,1)" font-size="8.5" text-anchor="end" fill="#262626" font-weight="normal" stroke="#262626" stroke-width="0.12" >10</text>
<line x1="431.80" y1="185.10" x2="435.00" y2="185.10" stroke="#505050" stroke-width="1.0" />
<text transform="translate(430.40,188.00) scale(0.84,1)" font-size="8.5" text-anchor="end" fill="#262626" font-weight="normal" stroke="#262626" stroke-width="0.12" >5</text>
<line x1="431.80" y1="217.20" x2="435.00" y2="217.20" stroke="#505050" stroke-width="1.0" />
<text transform="translate(430.40,220.10) scale(0.84,1)" font-size="8.5" text-anchor="end" fill="#262626" font-weight="normal" stroke="#262626" stroke-width="0.12" >0</text>
<line x1="448.70" y1="223.70" x2="448.70" y2="227.30" stroke="#505050" stroke-width="1.0" />
<line x1="468.90" y1="223.70" x2="468.90" y2="227.30" stroke="#505050" stroke-width="1.0" />
<line x1="503.20" y1="223.70" x2="503.20" y2="227.30" stroke="#505050" stroke-width="1.0" />
<line x1="523.60" y1="223.70" x2="523.60" y2="227.30" stroke="#505050" stroke-width="1.0" />
<text transform="translate(449.00,236.70) scale(0.86,1)" font-size="8.8" text-anchor="middle" fill="#262626" font-weight="normal" stroke="#262626" stroke-width="0.12" >PBS</text>
<text transform="translate(468.50,236.70) scale(0.86,1)" font-size="8.8" text-anchor="middle" fill="#262626" font-weight="normal" stroke="#262626" stroke-width="0.12" >Beta</text>
<text transform="translate(502.70,236.70) scale(0.86,1)" font-size="8.8" text-anchor="middle" fill="#262626" font-weight="normal" stroke="#262626" stroke-width="0.12" >PBS</text>
<text transform="translate(524.00,236.70) scale(0.86,1)" font-size="8.8" text-anchor="middle" fill="#262626" font-weight="normal" stroke="#262626" stroke-width="0.12" >Beta</text>
<line x1="437.70" y1="244.20" x2="488.10" y2="244.20" stroke="#505050" stroke-width="1.1" />
<line x1="492.80" y1="244.20" x2="543.00" y2="244.20" stroke="#505050" stroke-width="1.1" />
<text transform="translate(462.60,255.40) scale(0.86,1)" font-size="8.5" text-anchor="middle" fill="#262626" font-weight="normal" stroke="#262626" stroke-width="0.12" >wild-type</text>
<text transform="translate(520.80,255.40) scale(0.86,1)" font-size="8.5" text-anchor="middle" fill="#262626" font-weight="normal" stroke="#262626" stroke-width="0.12" >TMPRSS2-K.O.</text>
<path d="M447.80,142.90 V137.60 H467.60 V142.90" fill="none" stroke="#3a3a3a" stroke-width="1.05"/>
<circle cx="452.20" cy="132.70" r="1.15" fill="#111"/>
<path d="M452.20,130.95 L452.20,134.45 M453.72,131.82 L450.68,133.57 M453.72,133.57 L450.68,131.82 " stroke="#111" stroke-width="0.8"/>
<circle cx="457.60" cy="132.70" r="1.15" fill="#111"/>
<path d="M457.60,130.95 L457.60,134.45 M459.12,131.82 L456.08,133.57 M459.12,133.57 L456.08,131.82 " stroke="#111" stroke-width="0.8"/>
<circle cx="463.00" cy="132.70" r="1.15" fill="#111"/>
<path d="M463.00,130.95 L463.00,134.45 M464.52,131.82 L461.48,133.57 M464.52,133.57 L461.48,131.82 " stroke="#111" stroke-width="0.8"/>
<path d="M470.30,142.40 V137.10 H528.40 V142.40" fill="none" stroke="#3a3a3a" stroke-width="1.05"/>
<circle cx="494.00" cy="132.20" r="1.15" fill="#111"/>
<path d="M494.00,130.45 L494.00,133.95 M495.52,131.32 L492.48,133.07 M495.52,133.07 L492.48,131.32 " stroke="#111" stroke-width="0.8"/>
<circle cx="499.40" cy="132.20" r="1.15" fill="#111"/>
<path d="M499.40,130.45 L499.40,133.95 M500.92,131.32 L497.88,133.07 M500.92,133.07 L497.88,131.32 " stroke="#111" stroke-width="0.8"/>
<circle cx="504.80" cy="132.20" r="1.15" fill="#111"/>
<path d="M504.80,130.45 L504.80,133.95 M506.32,131.32 L503.28,133.07 M506.32,133.07 L503.28,131.32 " stroke="#111" stroke-width="0.8"/>
<text transform="translate(419.20,261.70) scale(1.0,1)" font-size="10.4" text-anchor="start" fill="#111" font-weight="bold" stroke="#111" stroke-width="0.35" >I</text>
<text transform="translate(420.00,324.90) rotate(-90)" font-size="8.0" text-anchor="middle" fill="#262626" stroke="#262626" stroke-width="0.18" textLength="80.6" lengthAdjust="spacingAndGlyphs">cumulative clinical score</text>
<rect x="442.20" y="358.60" width="13.60" height="11.40" fill="#a9a9a9" stroke="none" stroke-width="0"/>
<rect x="462.20" y="354.40" width="13.90" height="15.60" fill="#f59494" stroke="none" stroke-width="0"/>
<rect x="497.00" y="354.70" width="13.20" height="15.30" fill="#8c8c8c" stroke="none" stroke-width="0"/>
<rect x="517.00" y="355.60" width="13.50" height="14.40" fill="#b40000" stroke="none" stroke-width="0"/>
<circle cx="448.70" cy="337.90" r="1.95" fill="#a6a6a6" stroke="#333333" stroke-width="1.0"/>
<circle cx="445.70" cy="350.74" r="1.95" fill="#a6a6a6" stroke="#333333" stroke-width="1.0"/>
<circle cx="448.70" cy="350.74" r="1.95" fill="#a6a6a6" stroke="#333333" stroke-width="1.0"/>
<circle cx="451.70" cy="350.74" r="1.95" fill="#a6a6a6" stroke="#333333" stroke-width="1.0"/>
<circle cx="448.70" cy="357.16" r="1.95" fill="#a6a6a6" stroke="#333333" stroke-width="1.0"/>
<circle cx="444.20" cy="363.58" r="1.95" fill="#a6a6a6" stroke="#333333" stroke-width="1.0"/>
<circle cx="447.20" cy="363.58" r="1.95" fill="#a6a6a6" stroke="#333333" stroke-width="1.0"/>
<circle cx="450.20" cy="363.58" r="1.95" fill="#a6a6a6" stroke="#333333" stroke-width="1.0"/>
<circle cx="453.20" cy="363.58" r="1.95" fill="#a6a6a6" stroke="#333333" stroke-width="1.0"/>
<circle cx="448.70" cy="370.00" r="1.95" fill="#a6a6a6" stroke="#333333" stroke-width="1.0"/>
<circle cx="467.50" cy="337.90" r="1.95" fill="#f08080" stroke="#4a1e1e" stroke-width="1.0"/>
<circle cx="470.50" cy="337.90" r="1.95" fill="#f08080" stroke="#4a1e1e" stroke-width="1.0"/>
<circle cx="467.50" cy="344.32" r="1.95" fill="#f08080" stroke="#4a1e1e" stroke-width="1.0"/>
<circle cx="470.50" cy="344.32" r="1.95" fill="#f08080" stroke="#4a1e1e" stroke-width="1.0"/>
<circle cx="469.00" cy="350.74" r="1.95" fill="#f08080" stroke="#4a1e1e" stroke-width="1.0"/>
<circle cx="466.00" cy="357.16" r="1.95" fill="#f08080" stroke="#4a1e1e" stroke-width="1.0"/>
<circle cx="469.00" cy="357.16" r="1.95" fill="#f08080" stroke="#4a1e1e" stroke-width="1.0"/>
<circle cx="472.00" cy="357.16" r="1.95" fill="#f08080" stroke="#4a1e1e" stroke-width="1.0"/>
<circle cx="464.50" cy="363.58" r="1.95" fill="#f08080" stroke="#4a1e1e" stroke-width="1.0"/>
<circle cx="467.50" cy="363.58" r="1.95" fill="#f08080" stroke="#4a1e1e" stroke-width="1.0"/>
<circle cx="470.50" cy="363.58" r="1.95" fill="#f08080" stroke="#4a1e1e" stroke-width="1.0"/>
<circle cx="473.50" cy="363.58" r="1.95" fill="#f08080" stroke="#4a1e1e" stroke-width="1.0"/>
<circle cx="469.00" cy="370.00" r="1.95" fill="#f08080" stroke="#4a1e1e" stroke-width="1.0"/>
<rect x="499.75" y="329.53" width="3.90" height="3.90" fill="#858585" stroke="#333333" stroke-width="1.0"/>
<rect x="502.75" y="329.53" width="3.90" height="3.90" fill="#858585" stroke="#333333" stroke-width="1.0"/>
<rect x="498.25" y="348.79" width="3.90" height="3.90" fill="#858585" stroke="#333333" stroke-width="1.0"/>
<rect x="501.25" y="348.79" width="3.90" height="3.90" fill="#858585" stroke="#333333" stroke-width="1.0"/>
<rect x="504.25" y="348.79" width="3.90" height="3.90" fill="#858585" stroke="#333333" stroke-width="1.0"/>
<rect x="498.25" y="355.21" width="3.90" height="3.90" fill="#858585" stroke="#333333" stroke-width="1.0"/>
<rect x="501.25" y="355.21" width="3.90" height="3.90" fill="#858585" stroke="#333333" stroke-width="1.0"/>
<rect x="504.25" y="355.21" width="3.90" height="3.90" fill="#858585" stroke="#333333" stroke-width="1.0"/>
<rect x="501.25" y="361.63" width="3.90" height="3.90" fill="#858585" stroke="#333333" stroke-width="1.0"/>
<rect x="495.25" y="368.05" width="3.90" height="3.90" fill="#858585" stroke="#333333" stroke-width="1.0"/>
<rect x="498.25" y="368.05" width="3.90" height="3.90" fill="#858585" stroke="#333333" stroke-width="1.0"/>
<rect x="501.25" y="368.05" width="3.90" height="3.90" fill="#858585" stroke="#333333" stroke-width="1.0"/>
<rect x="504.25" y="368.05" width="3.90" height="3.90" fill="#858585" stroke="#333333" stroke-width="1.0"/>
<rect x="507.25" y="368.05" width="3.90" height="3.90" fill="#858585" stroke="#333333" stroke-width="1.0"/>
<rect x="521.65" y="329.53" width="3.90" height="3.90" fill="#a00000" stroke="#380000" stroke-width="1.0"/>
<rect x="521.65" y="335.95" width="3.90" height="3.90" fill="#a00000" stroke="#380000" stroke-width="1.0"/>
<rect x="521.65" y="342.37" width="3.90" height="3.90" fill="#a00000" stroke="#380000" stroke-width="1.0"/>
<rect x="518.65" y="355.21" width="3.90" height="3.90" fill="#a00000" stroke="#380000" stroke-width="1.0"/>
<rect x="521.65" y="355.21" width="3.90" height="3.90" fill="#a00000" stroke="#380000" stroke-width="1.0"/>
<rect x="524.65" y="355.21" width="3.90" height="3.90" fill="#a00000" stroke="#380000" stroke-width="1.0"/>
<rect x="517.15" y="361.63" width="3.90" height="3.90" fill="#a00000" stroke="#380000" stroke-width="1.0"/>
<rect x="520.15" y="361.63" width="3.90" height="3.90" fill="#a00000" stroke="#380000" stroke-width="1.0"/>
<rect x="523.15" y="361.63" width="3.90" height="3.90" fill="#a00000" stroke="#380000" stroke-width="1.0"/>
<rect x="526.15" y="361.63" width="3.90" height="3.90" fill="#a00000" stroke="#380000" stroke-width="1.0"/>
<rect x="517.15" y="368.05" width="3.90" height="3.90" fill="#a00000" stroke="#380000" stroke-width="1.0"/>
<rect x="520.15" y="368.05" width="3.90" height="3.90" fill="#a00000" stroke="#380000" stroke-width="1.0"/>
<rect x="523.15" y="368.05" width="3.90" height="3.90" fill="#a00000" stroke="#380000" stroke-width="1.0"/>
<rect x="526.15" y="368.05" width="3.90" height="3.90" fill="#a00000" stroke="#380000" stroke-width="1.0"/>
<line x1="435.00" y1="370.00" x2="537.80" y2="370.00" stroke="#4a4a4a" stroke-width="1.05" />
<line x1="435.00" y1="273.80" x2="435.00" y2="377.00" stroke="#505050" stroke-width="1.15" />
<line x1="435.00" y1="376.50" x2="537.80" y2="376.50" stroke="#4a4a4a" stroke-width="1.15" />
<line x1="431.80" y1="273.70" x2="435.00" y2="273.70" stroke="#505050" stroke-width="1.0" />
<text transform="translate(430.40,276.60) scale(0.84,1)" font-size="8.5" text-anchor="end" fill="#262626" font-weight="normal" stroke="#262626" stroke-width="0.12" >15</text>
<line x1="431.80" y1="305.80" x2="435.00" y2="305.80" stroke="#505050" stroke-width="1.0" />
<text transform="translate(430.40,308.70) scale(0.84,1)" font-size="8.5" text-anchor="end" fill="#262626" font-weight="normal" stroke="#262626" stroke-width="0.12" >10</text>
<line x1="431.80" y1="337.90" x2="435.00" y2="337.90" stroke="#505050" stroke-width="1.0" />
<text transform="translate(430.40,340.80) scale(0.84,1)" font-size="8.5" text-anchor="end" fill="#262626" font-weight="normal" stroke="#262626" stroke-width="0.12" >5</text>
<line x1="431.80" y1="370.00" x2="435.00" y2="370.00" stroke="#505050" stroke-width="1.0" />
<text transform="translate(430.40,372.90) scale(0.84,1)" font-size="8.5" text-anchor="end" fill="#262626" font-weight="normal" stroke="#262626" stroke-width="0.12" >0</text>
<line x1="448.70" y1="376.50" x2="448.70" y2="380.10" stroke="#505050" stroke-width="1.0" />
<line x1="468.90" y1="376.50" x2="468.90" y2="380.10" stroke="#505050" stroke-width="1.0" />
<line x1="503.20" y1="376.50" x2="503.20" y2="380.10" stroke="#505050" stroke-width="1.0" />
<line x1="523.60" y1="376.50" x2="523.60" y2="380.10" stroke="#505050" stroke-width="1.0" />
<text transform="translate(446.40,389.50) scale(0.86,1)" font-size="8.8" text-anchor="middle" fill="#262626" font-weight="normal" stroke="#262626" stroke-width="0.12" >PBS</text>
<text transform="translate(471.80,389.50) scale(0.86,1)" font-size="8.8" text-anchor="middle" fill="#262626" font-weight="normal" stroke="#262626" stroke-width="0.12" >Omicron</text>
<text transform="translate(500.00,389.50) scale(0.86,1)" font-size="8.8" text-anchor="middle" fill="#262626" font-weight="normal" stroke="#262626" stroke-width="0.12" >PBS</text>
<text transform="translate(526.40,389.50) scale(0.86,1)" font-size="8.8" text-anchor="middle" fill="#262626" font-weight="normal" stroke="#262626" stroke-width="0.12" >Omicron</text>
<line x1="437.70" y1="397.00" x2="488.10" y2="397.00" stroke="#505050" stroke-width="1.1" />
<line x1="492.80" y1="397.00" x2="543.00" y2="397.00" stroke="#505050" stroke-width="1.1" />
<text transform="translate(462.60,408.20) scale(0.86,1)" font-size="8.5" text-anchor="middle" fill="#262626" font-weight="normal" stroke="#262626" stroke-width="0.12" >wild-type</text>
<text transform="translate(520.80,408.20) scale(0.86,1)" font-size="8.5" text-anchor="middle" fill="#262626" font-weight="normal" stroke="#262626" stroke-width="0.12" >TMPRSS2-K.O.</text>
</svg>
</body></html>
